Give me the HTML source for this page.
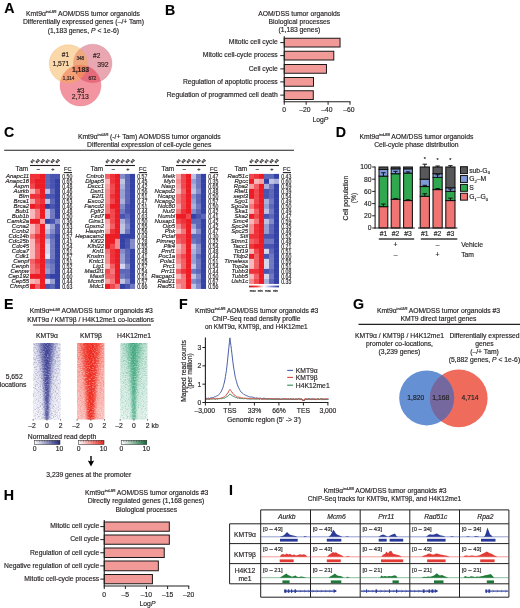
<!DOCTYPE html>
<html lang="en"><head><meta charset="utf-8"><title>KMT9 figure</title>
<style>html,body{margin:0;padding:0;background:#fff}body{width:520px;height:608px;overflow:hidden}svg{display:block}text{font-family:"Liberation Sans", Arial, Helvetica, sans-serif;stroke:#231f20;stroke-width:0.16px}</style></head><body>
<svg width="520" height="608" viewBox="0 0 520 608" fill="#231f20">
<rect width="520" height="608" fill="#fff"/>
<defs>
<filter id="spk" x="0" y="0" width="100%" height="100%" color-interpolation-filters="sRGB">
<feTurbulence type="fractalNoise" baseFrequency="0.55 0.98" numOctaves="2" seed="3" result="n"/>
<feColorMatrix in="n" type="matrix" values="0 0 0 0 1  0 0 0 0 1  0 0 0 0 1  0 0 0 -3.2 1.75"/>
<feComponentTransfer><feFuncA type="linear" slope="0.38"/></feComponentTransfer>
</filter>
<filter id="blr" x="-20%" y="-5%" width="140%" height="110%"><feGaussianBlur stdDeviation="0.9 0.2"/></filter>
<linearGradient id="gb" x1="0" x2="1"><stop offset="0" stop-color="#fff"/><stop offset="1" stop-color="#1f2a80"/></linearGradient>
<linearGradient id="gr" x1="0" x2="1"><stop offset="0" stop-color="#fff"/><stop offset="1" stop-color="#e8241c"/></linearGradient>
<linearGradient id="gg" x1="0" x2="1"><stop offset="0" stop-color="#fff"/><stop offset="1" stop-color="#0f6b35"/></linearGradient>
<linearGradient id="grb" x1="0" x2="1"><stop offset="0" stop-color="#c8141c"/><stop offset="0.25" stop-color="#ee3a3a"/><stop offset="0.5" stop-color="#ffffff"/><stop offset="0.75" stop-color="#8a92dc"/><stop offset="1" stop-color="#2a3a98"/></linearGradient>
</defs>
<text x="4.20" y="12.50" font-size="14.20" font-weight="bold" fill="#000" stroke="#000">A</text>
<text x="164.90" y="14.80" font-size="14.20" font-weight="bold" fill="#000" stroke="#000">B</text>
<text x="3.90" y="137.20" font-size="14.20" font-weight="bold" fill="#000" stroke="#000">C</text>
<text x="335.80" y="136.90" font-size="14.20" font-weight="bold" fill="#000" stroke="#000">D</text>
<text x="4.00" y="309.20" font-size="14.20" font-weight="bold" fill="#000" stroke="#000">E</text>
<text x="179.00" y="309.20" font-size="14.20" font-weight="bold" fill="#000" stroke="#000">F</text>
<text x="353.10" y="309.40" font-size="14.20" font-weight="bold" fill="#000" stroke="#000">G</text>
<text x="3.80" y="499.60" font-size="14.20" font-weight="bold" fill="#000" stroke="#000">H</text>
<text x="228.90" y="494.50" font-size="14.20" font-weight="bold" fill="#000" stroke="#000">I</text>
<text x="83.00" y="15.50" font-size="6.78" text-anchor="middle">Kmt9α<tspan font-size="3.6" dy="-2.4">ind-fl/fl</tspan><tspan dy="2.4"> AOM/DSS tumor organoids</tspan></text>
<text x="83.50" y="24.00" font-size="6.78" text-anchor="middle">Differentially expressed genes (–/+ Tam)</text>
<text x="83.40" y="32.60" font-size="6.78" text-anchor="middle">(1,183 genes, <tspan font-style="italic">P</tspan> &lt; 1e-6)</text>
<circle cx="92.7" cy="63.5" r="19.3" fill="#d4566c" fill-opacity="0.52" stroke="#c9697a" stroke-opacity="0.5" stroke-width="0.5"/>
<circle cx="80.5" cy="85.5" r="20.5" fill="#e8344a" fill-opacity="0.52" stroke="#d6566a" stroke-opacity="0.5" stroke-width="0.5"/>
<circle cx="68.3" cy="63.8" r="19.1" fill="#f4ac48" fill-opacity="0.47" stroke="#e9a45c" stroke-opacity="0.5" stroke-width="0.5"/>
<text x="65.40" y="57.40" font-size="6.50" text-anchor="middle" fill="#3a2320">#1</text>
<text x="60.90" y="66.40" font-size="6.80" text-anchor="middle" fill="#3a2320">1,571</text>
<text x="96.70" y="58.20" font-size="6.50" text-anchor="middle" fill="#3a2320">#2</text>
<text x="102.80" y="66.60" font-size="6.80" text-anchor="middle" fill="#3a2320">392</text>
<text x="80.50" y="72.10" font-size="6.90" text-anchor="middle" font-weight="bold" fill="#3a2320">1,183</text>
<text x="80.30" y="60.40" font-size="4.70" text-anchor="middle" fill="#3a2320">348</text>
<text x="68.60" y="80.30" font-size="4.60" text-anchor="middle" fill="#3a2320">1,314</text>
<text x="92.30" y="80.30" font-size="4.70" text-anchor="middle" fill="#3a2320">672</text>
<text x="80.80" y="93.40" font-size="6.50" text-anchor="middle" fill="#3a2320">#3</text>
<text x="80.30" y="99.20" font-size="6.80" text-anchor="middle" fill="#3a2320">2,713</text>
<text x="299.20" y="15.60" font-size="6.78" text-anchor="middle">AOM/DSS tumor organoids</text>
<text x="299.40" y="23.60" font-size="6.78" text-anchor="middle">Biological processes</text>
<text x="299.40" y="31.70" font-size="6.78" text-anchor="middle">(1,183 genes)</text>
<rect x="284.25" y="38.25" width="55.79" height="8.75" fill="#f29a98" stroke="#1a1718" stroke-width="1.00" />
<line x1="280.25" y1="42.62" x2="284.25" y2="42.62" stroke="#231f20" stroke-width="1.00" />
<text x="277.70" y="44.42" font-size="6.78" text-anchor="end">Mitotic cell cycle</text>
<rect x="284.25" y="51.25" width="49.54" height="8.75" fill="#f29a98" stroke="#1a1718" stroke-width="1.00" />
<line x1="280.25" y1="55.62" x2="284.25" y2="55.62" stroke="#231f20" stroke-width="1.00" />
<text x="277.70" y="57.42" font-size="6.78" text-anchor="end">Mitotic cell-cycle process</text>
<rect x="284.25" y="64.50" width="42.20" height="8.75" fill="#f29a98" stroke="#1a1718" stroke-width="1.00" />
<line x1="280.25" y1="68.88" x2="284.25" y2="68.88" stroke="#231f20" stroke-width="1.00" />
<text x="277.70" y="70.67" font-size="6.78" text-anchor="end">Cell cycle</text>
<rect x="284.25" y="77.50" width="29.26" height="8.75" fill="#f29a98" stroke="#1a1718" stroke-width="1.00" />
<line x1="280.25" y1="81.88" x2="284.25" y2="81.88" stroke="#231f20" stroke-width="1.00" />
<text x="277.70" y="83.67" font-size="6.78" text-anchor="end">Regulation of apoptotic process</text>
<rect x="284.25" y="90.75" width="29.04" height="8.75" fill="#f29a98" stroke="#1a1718" stroke-width="1.00" />
<line x1="280.25" y1="95.12" x2="284.25" y2="95.12" stroke="#231f20" stroke-width="1.00" />
<text x="277.70" y="96.92" font-size="6.78" text-anchor="end">Regulation of programmed cell death</text>
<line x1="284.25" y1="36.25" x2="284.25" y2="102.25" stroke="#231f20" stroke-width="1.10" />
<line x1="283.70" y1="101.75" x2="350.50" y2="101.75" stroke="#231f20" stroke-width="1.10" />
<line x1="284.25" y1="101.75" x2="284.25" y2="104.75" stroke="#231f20" stroke-width="1.00" />
<text x="284.25" y="112.25" font-size="6.78" text-anchor="middle">0</text>
<line x1="306.17" y1="101.75" x2="306.17" y2="104.75" stroke="#231f20" stroke-width="1.00" />
<text x="304.97" y="112.25" font-size="6.78" text-anchor="middle">–20</text>
<line x1="328.09" y1="101.75" x2="328.09" y2="104.75" stroke="#231f20" stroke-width="1.00" />
<text x="326.89" y="112.25" font-size="6.78" text-anchor="middle">–40</text>
<line x1="350.01" y1="101.75" x2="350.01" y2="104.75" stroke="#231f20" stroke-width="1.00" />
<text x="348.81" y="112.25" font-size="6.78" text-anchor="middle">–60</text>
<text x="320.32" y="121.95" font-size="6.78" text-anchor="middle">Log<tspan font-style="italic">P</tspan></text>
<text x="149.30" y="138.70" font-size="6.78" text-anchor="middle">Kmt9α<tspan font-size="3.6" dy="-2.4">ind-fl/fl</tspan><tspan dy="2.4"> (-/+ Tam) AOM/DSS tumor organoids</tspan></text>
<text x="149.30" y="146.70" font-size="6.78" text-anchor="middle">Differential expression of cell-cycle genes</text>
<line x1="4.20" y1="150.25" x2="294.00" y2="150.25" stroke="#231f20" stroke-width="1.20" />
<text x="31.90" y="163.60" font-size="3.80" font-weight="bold" transform="rotate(-45 31.90 163.6)">#1</text>
<text x="36.90" y="163.60" font-size="3.80" font-weight="bold" transform="rotate(-45 36.90 163.6)">#2</text>
<text x="41.90" y="163.60" font-size="3.80" font-weight="bold" transform="rotate(-45 41.90 163.6)">#3</text>
<text x="46.90" y="163.60" font-size="3.80" font-weight="bold" transform="rotate(-45 46.90 163.6)">#1</text>
<text x="51.90" y="163.60" font-size="3.80" font-weight="bold" transform="rotate(-45 51.90 163.6)">#2</text>
<text x="56.90" y="163.60" font-size="3.80" font-weight="bold" transform="rotate(-45 56.90 163.6)">#3</text>
<line x1="30.00" y1="165.50" x2="60.00" y2="165.50" stroke="#231f20" stroke-width="1.10" />
<text x="28.20" y="171.00" font-size="6.70" text-anchor="end">Tam</text>
<text x="38.20" y="171.00" font-size="5.60" text-anchor="middle">–</text>
<text x="52.80" y="171.20" font-size="5.60" text-anchor="middle">+</text>
<text x="67.90" y="171.00" font-size="5.70" text-anchor="middle">FC</text>
<line x1="63.80" y1="172.60" x2="72.00" y2="172.60" stroke="#231f20" stroke-width="1.10" />
<rect x="30.00" y="173.90" width="5.05" height="5.05" fill="#ef3239" />
<rect x="35.00" y="173.90" width="5.05" height="5.05" fill="#ef3239" />
<rect x="40.00" y="173.90" width="5.05" height="5.05" fill="#ed1c24" />
<rect x="45.00" y="173.90" width="5.05" height="5.05" fill="#5c67b7" />
<rect x="50.00" y="173.90" width="5.05" height="5.05" fill="#4854af" />
<rect x="55.00" y="173.90" width="5.05" height="5.05" fill="#4854af" />
<rect x="30.00" y="178.90" width="5.05" height="5.05" fill="#ef3239" />
<rect x="35.00" y="178.90" width="5.05" height="5.05" fill="#ed1c24" />
<rect x="40.00" y="178.90" width="5.05" height="5.05" fill="#ed1c24" />
<rect x="45.00" y="178.90" width="5.05" height="5.05" fill="#5c67b7" />
<rect x="50.00" y="178.90" width="5.05" height="5.05" fill="#4854af" />
<rect x="55.00" y="178.90" width="5.05" height="5.05" fill="#3442a6" />
<rect x="30.00" y="183.90" width="5.05" height="5.05" fill="#f1484f" />
<rect x="35.00" y="183.90" width="5.05" height="5.05" fill="#ed1c24" />
<rect x="40.00" y="183.90" width="5.05" height="5.05" fill="#ed1c24" />
<rect x="45.00" y="183.90" width="5.05" height="5.05" fill="#5c67b7" />
<rect x="50.00" y="183.90" width="5.05" height="5.05" fill="#4854af" />
<rect x="55.00" y="183.90" width="5.05" height="5.05" fill="#3442a6" />
<rect x="30.00" y="188.90" width="5.05" height="5.05" fill="#f9b7ba" />
<rect x="35.00" y="188.90" width="5.05" height="5.05" fill="#f25f64" />
<rect x="40.00" y="188.90" width="5.05" height="5.05" fill="#ed1c24" />
<rect x="45.00" y="188.90" width="5.05" height="5.05" fill="#bfc3e3" />
<rect x="50.00" y="188.90" width="5.05" height="5.05" fill="#5c67b7" />
<rect x="55.00" y="188.90" width="5.05" height="5.05" fill="#3442a6" />
<rect x="30.00" y="193.90" width="5.05" height="5.05" fill="#ef3239" />
<rect x="35.00" y="193.90" width="5.05" height="5.05" fill="#ef3239" />
<rect x="40.00" y="193.90" width="5.05" height="5.05" fill="#ed1c24" />
<rect x="45.00" y="193.90" width="5.05" height="5.05" fill="#4854af" />
<rect x="50.00" y="193.90" width="5.05" height="5.05" fill="#4854af" />
<rect x="55.00" y="193.90" width="5.05" height="5.05" fill="#3442a6" />
<rect x="30.00" y="198.90" width="5.05" height="5.05" fill="#f8a1a4" />
<rect x="35.00" y="198.90" width="5.05" height="5.05" fill="#f1484f" />
<rect x="40.00" y="198.90" width="5.05" height="5.05" fill="#ef3239" />
<rect x="45.00" y="198.90" width="5.05" height="5.05" fill="#bfc3e3" />
<rect x="50.00" y="198.90" width="5.05" height="5.05" fill="#5c67b7" />
<rect x="55.00" y="198.90" width="5.05" height="5.05" fill="#3442a6" />
<rect x="30.00" y="203.90" width="5.05" height="5.05" fill="#ed1c24" />
<rect x="35.00" y="203.90" width="5.05" height="5.05" fill="#ef3239" />
<rect x="40.00" y="203.90" width="5.05" height="5.05" fill="#ed1c24" />
<rect x="45.00" y="203.90" width="5.05" height="5.05" fill="#3442a6" />
<rect x="50.00" y="203.90" width="5.05" height="5.05" fill="#4854af" />
<rect x="55.00" y="203.90" width="5.05" height="5.05" fill="#3442a6" />
<rect x="30.00" y="208.90" width="5.05" height="5.05" fill="#f9b7ba" />
<rect x="35.00" y="208.90" width="5.05" height="5.05" fill="#f4757a" />
<rect x="40.00" y="208.90" width="5.05" height="5.05" fill="#ed1c24" />
<rect x="45.00" y="208.90" width="5.05" height="5.05" fill="#bfc3e3" />
<rect x="50.00" y="208.90" width="5.05" height="5.05" fill="#7079c0" />
<rect x="55.00" y="208.90" width="5.05" height="5.05" fill="#3442a6" />
<rect x="30.00" y="213.90" width="5.05" height="5.05" fill="#f9b7ba" />
<rect x="35.00" y="213.90" width="5.05" height="5.05" fill="#f4757a" />
<rect x="40.00" y="213.90" width="5.05" height="5.05" fill="#ed1c24" />
<rect x="45.00" y="213.90" width="5.05" height="5.05" fill="#bfc3e3" />
<rect x="50.00" y="213.90" width="5.05" height="5.05" fill="#7079c0" />
<rect x="55.00" y="213.90" width="5.05" height="5.05" fill="#3442a6" />
<rect x="30.00" y="218.90" width="5.05" height="5.05" fill="#ed1c24" />
<rect x="35.00" y="218.90" width="5.05" height="5.05" fill="#ed1c24" />
<rect x="40.00" y="218.90" width="5.05" height="5.05" fill="#f8a1a4" />
<rect x="45.00" y="218.90" width="5.05" height="5.05" fill="#3442a6" />
<rect x="50.00" y="218.90" width="5.05" height="5.05" fill="#4854af" />
<rect x="55.00" y="218.90" width="5.05" height="5.05" fill="#838cc9" />
<rect x="30.00" y="223.90" width="5.05" height="5.05" fill="#f9b7ba" />
<rect x="35.00" y="223.90" width="5.05" height="5.05" fill="#f4757a" />
<rect x="40.00" y="223.90" width="5.05" height="5.05" fill="#ed1c24" />
<rect x="45.00" y="223.90" width="5.05" height="5.05" fill="#d3d6ec" />
<rect x="50.00" y="223.90" width="5.05" height="5.05" fill="#979ed2" />
<rect x="55.00" y="223.90" width="5.05" height="5.05" fill="#4854af" />
<rect x="30.00" y="228.90" width="5.05" height="5.05" fill="#f9b7ba" />
<rect x="35.00" y="228.90" width="5.05" height="5.05" fill="#f4757a" />
<rect x="40.00" y="228.90" width="5.05" height="5.05" fill="#ed1c24" />
<rect x="45.00" y="228.90" width="5.05" height="5.05" fill="#bfc3e3" />
<rect x="50.00" y="228.90" width="5.05" height="5.05" fill="#838cc9" />
<rect x="55.00" y="228.90" width="5.05" height="5.05" fill="#4854af" />
<rect x="30.00" y="233.90" width="5.05" height="5.05" fill="#f4757a" />
<rect x="35.00" y="233.90" width="5.05" height="5.05" fill="#ef3239" />
<rect x="40.00" y="233.90" width="5.05" height="5.05" fill="#ed1c24" />
<rect x="45.00" y="233.90" width="5.05" height="5.05" fill="#838cc9" />
<rect x="50.00" y="233.90" width="5.05" height="5.05" fill="#5c67b7" />
<rect x="55.00" y="233.90" width="5.05" height="5.05" fill="#3442a6" />
<rect x="30.00" y="238.90" width="5.05" height="5.05" fill="#f9b7ba" />
<rect x="35.00" y="238.90" width="5.05" height="5.05" fill="#f1484f" />
<rect x="40.00" y="238.90" width="5.05" height="5.05" fill="#ed1c24" />
<rect x="45.00" y="238.90" width="5.05" height="5.05" fill="#bfc3e3" />
<rect x="50.00" y="238.90" width="5.05" height="5.05" fill="#7079c0" />
<rect x="55.00" y="238.90" width="5.05" height="5.05" fill="#3442a6" />
<rect x="30.00" y="243.90" width="5.05" height="5.05" fill="#f9b7ba" />
<rect x="35.00" y="243.90" width="5.05" height="5.05" fill="#f25f64" />
<rect x="40.00" y="243.90" width="5.05" height="5.05" fill="#ed1c24" />
<rect x="45.00" y="243.90" width="5.05" height="5.05" fill="#d3d6ec" />
<rect x="50.00" y="243.90" width="5.05" height="5.05" fill="#7079c0" />
<rect x="55.00" y="243.90" width="5.05" height="5.05" fill="#3442a6" />
<rect x="30.00" y="248.90" width="5.05" height="5.05" fill="#f9b7ba" />
<rect x="35.00" y="248.90" width="5.05" height="5.05" fill="#f25f64" />
<rect x="40.00" y="248.90" width="5.05" height="5.05" fill="#ed1c24" />
<rect x="45.00" y="248.90" width="5.05" height="5.05" fill="#d3d6ec" />
<rect x="50.00" y="248.90" width="5.05" height="5.05" fill="#7079c0" />
<rect x="55.00" y="248.90" width="5.05" height="5.05" fill="#3442a6" />
<rect x="30.00" y="253.90" width="5.05" height="5.05" fill="#f9b7ba" />
<rect x="35.00" y="253.90" width="5.05" height="5.05" fill="#f25f64" />
<rect x="40.00" y="253.90" width="5.05" height="5.05" fill="#ed1c24" />
<rect x="45.00" y="253.90" width="5.05" height="5.05" fill="#e7e8f4" />
<rect x="50.00" y="253.90" width="5.05" height="5.05" fill="#7079c0" />
<rect x="55.00" y="253.90" width="5.05" height="5.05" fill="#3442a6" />
<rect x="30.00" y="258.90" width="5.05" height="5.05" fill="#f25f64" />
<rect x="35.00" y="258.90" width="5.05" height="5.05" fill="#ef3239" />
<rect x="40.00" y="258.90" width="5.05" height="5.05" fill="#ed1c24" />
<rect x="45.00" y="258.90" width="5.05" height="5.05" fill="#7079c0" />
<rect x="50.00" y="258.90" width="5.05" height="5.05" fill="#5c67b7" />
<rect x="55.00" y="258.90" width="5.05" height="5.05" fill="#3442a6" />
<rect x="30.00" y="263.90" width="5.05" height="5.05" fill="#f4757a" />
<rect x="35.00" y="263.90" width="5.05" height="5.05" fill="#f1484f" />
<rect x="40.00" y="263.90" width="5.05" height="5.05" fill="#ed1c24" />
<rect x="45.00" y="263.90" width="5.05" height="5.05" fill="#838cc9" />
<rect x="50.00" y="263.90" width="5.05" height="5.05" fill="#7079c0" />
<rect x="55.00" y="263.90" width="5.05" height="5.05" fill="#3442a6" />
<rect x="30.00" y="268.90" width="5.05" height="5.05" fill="#f4757a" />
<rect x="35.00" y="268.90" width="5.05" height="5.05" fill="#f25f64" />
<rect x="40.00" y="268.90" width="5.05" height="5.05" fill="#ed1c24" />
<rect x="45.00" y="268.90" width="5.05" height="5.05" fill="#979ed2" />
<rect x="50.00" y="268.90" width="5.05" height="5.05" fill="#7079c0" />
<rect x="55.00" y="268.90" width="5.05" height="5.05" fill="#3442a6" />
<rect x="30.00" y="273.90" width="5.05" height="5.05" fill="#ed1c24" />
<rect x="35.00" y="273.90" width="5.05" height="5.05" fill="#ed1c24" />
<rect x="40.00" y="273.90" width="5.05" height="5.05" fill="#ed1c24" />
<rect x="45.00" y="273.90" width="5.05" height="5.05" fill="#4854af" />
<rect x="50.00" y="273.90" width="5.05" height="5.05" fill="#3442a6" />
<rect x="55.00" y="273.90" width="5.05" height="5.05" fill="#3442a6" />
<rect x="30.00" y="278.90" width="5.05" height="5.05" fill="#f9b7ba" />
<rect x="35.00" y="278.90" width="5.05" height="5.05" fill="#f8a1a4" />
<rect x="40.00" y="278.90" width="5.05" height="5.05" fill="#ed1c24" />
<rect x="45.00" y="278.90" width="5.05" height="5.05" fill="#d3d6ec" />
<rect x="50.00" y="278.90" width="5.05" height="5.05" fill="#979ed2" />
<rect x="55.00" y="278.90" width="5.05" height="5.05" fill="#3442a6" />
<rect x="30.00" y="283.90" width="5.05" height="5.05" fill="#ed1c24" />
<rect x="35.00" y="283.90" width="5.05" height="5.05" fill="#f25f64" />
<rect x="40.00" y="283.90" width="5.05" height="5.05" fill="#ed1c24" />
<rect x="45.00" y="283.90" width="5.05" height="5.05" fill="#4854af" />
<rect x="50.00" y="283.90" width="5.05" height="5.05" fill="#5c67b7" />
<rect x="55.00" y="283.90" width="5.05" height="5.05" fill="#3442a6" />
<text x="29.20" y="178.20" font-size="6.00" text-anchor="end" font-style="italic">Anapc11</text>
<text x="62.20" y="178.65" font-size="6.30" textLength="10.1" lengthAdjust="spacingAndGlyphs">0.50</text>
<text x="29.20" y="183.20" font-size="6.00" text-anchor="end" font-style="italic">Anapc16</text>
<text x="62.20" y="183.65" font-size="6.30" textLength="10.1" lengthAdjust="spacingAndGlyphs">0.65</text>
<text x="29.20" y="188.20" font-size="6.00" text-anchor="end" font-style="italic">Aspm</text>
<text x="62.20" y="188.65" font-size="6.30" textLength="10.1" lengthAdjust="spacingAndGlyphs">0.48</text>
<text x="29.20" y="193.20" font-size="6.00" text-anchor="end" font-style="italic">Aurkb</text>
<text x="62.20" y="193.65" font-size="6.30" textLength="10.1" lengthAdjust="spacingAndGlyphs">0.46</text>
<text x="29.20" y="198.20" font-size="6.00" text-anchor="end" font-style="italic">Blm</text>
<text x="62.20" y="198.65" font-size="6.30" textLength="10.1" lengthAdjust="spacingAndGlyphs">0.56</text>
<text x="29.20" y="203.20" font-size="6.00" text-anchor="end" font-style="italic">Brca1</text>
<text x="62.20" y="203.65" font-size="6.30" textLength="10.1" lengthAdjust="spacingAndGlyphs">0.53</text>
<text x="29.20" y="208.20" font-size="6.00" text-anchor="end" font-style="italic">Brca2</text>
<text x="62.20" y="208.65" font-size="6.30" textLength="10.1" lengthAdjust="spacingAndGlyphs">0.46</text>
<text x="29.20" y="213.20" font-size="6.00" text-anchor="end" font-style="italic">Bub1</text>
<text x="62.20" y="213.65" font-size="6.30" textLength="10.1" lengthAdjust="spacingAndGlyphs">0.48</text>
<text x="29.20" y="218.20" font-size="6.00" text-anchor="end" font-style="italic">Bub1b</text>
<text x="62.20" y="218.65" font-size="6.30" textLength="10.1" lengthAdjust="spacingAndGlyphs">0.50</text>
<text x="29.20" y="223.20" font-size="6.00" text-anchor="end" font-style="italic">Camk2a</text>
<text x="62.20" y="223.65" font-size="6.30" textLength="10.1" lengthAdjust="spacingAndGlyphs">0.36</text>
<text x="29.20" y="228.20" font-size="6.00" text-anchor="end" font-style="italic">Ccna2</text>
<text x="62.20" y="228.65" font-size="6.30" textLength="10.1" lengthAdjust="spacingAndGlyphs">0.53</text>
<text x="29.20" y="233.20" font-size="6.00" text-anchor="end" font-style="italic">Ccnb2</text>
<text x="62.20" y="233.65" font-size="6.30" textLength="10.1" lengthAdjust="spacingAndGlyphs">0.44</text>
<text x="29.20" y="238.20" font-size="6.00" text-anchor="end" font-style="italic">Cdc14b</text>
<text x="62.20" y="238.65" font-size="6.30" textLength="10.1" lengthAdjust="spacingAndGlyphs">0.57</text>
<text x="29.20" y="243.20" font-size="6.00" text-anchor="end" font-style="italic">Cdc25b</text>
<text x="62.20" y="243.65" font-size="6.30" textLength="10.1" lengthAdjust="spacingAndGlyphs">0.41</text>
<text x="29.20" y="248.20" font-size="6.00" text-anchor="end" font-style="italic">Cdc45</text>
<text x="62.20" y="248.65" font-size="6.30" textLength="10.1" lengthAdjust="spacingAndGlyphs">0.54</text>
<text x="29.20" y="253.20" font-size="6.00" text-anchor="end" font-style="italic">Cdca7</text>
<text x="62.20" y="253.65" font-size="6.30" textLength="10.1" lengthAdjust="spacingAndGlyphs">0.51</text>
<text x="29.20" y="258.20" font-size="6.00" text-anchor="end" font-style="italic">Cdk1</text>
<text x="62.20" y="258.65" font-size="6.30" textLength="10.1" lengthAdjust="spacingAndGlyphs">0.57</text>
<text x="29.20" y="263.20" font-size="6.00" text-anchor="end" font-style="italic">Cenpf</text>
<text x="62.20" y="263.65" font-size="6.30" textLength="10.1" lengthAdjust="spacingAndGlyphs">0.51</text>
<text x="29.20" y="268.20" font-size="6.00" text-anchor="end" font-style="italic">Cenph</text>
<text x="62.20" y="268.65" font-size="6.30" textLength="10.1" lengthAdjust="spacingAndGlyphs">0.52</text>
<text x="29.20" y="273.20" font-size="6.00" text-anchor="end" font-style="italic">Cenpw</text>
<text x="62.20" y="273.65" font-size="6.30" textLength="10.1" lengthAdjust="spacingAndGlyphs">0.44</text>
<text x="29.20" y="278.20" font-size="6.00" text-anchor="end" font-style="italic">Cep192</text>
<text x="62.20" y="278.65" font-size="6.30" textLength="10.1" lengthAdjust="spacingAndGlyphs">0.60</text>
<text x="29.20" y="283.20" font-size="6.00" text-anchor="end" font-style="italic">Cep55</text>
<text x="62.20" y="283.65" font-size="6.30" textLength="10.1" lengthAdjust="spacingAndGlyphs">0.44</text>
<text x="29.20" y="288.20" font-size="6.00" text-anchor="end" font-style="italic">Chmp5</text>
<text x="62.20" y="288.65" font-size="6.30" textLength="10.1" lengthAdjust="spacingAndGlyphs">0.63</text>
<text x="106.90" y="163.60" font-size="3.80" font-weight="bold" transform="rotate(-45 106.90 163.6)">#1</text>
<text x="111.90" y="163.60" font-size="3.80" font-weight="bold" transform="rotate(-45 111.90 163.6)">#2</text>
<text x="116.90" y="163.60" font-size="3.80" font-weight="bold" transform="rotate(-45 116.90 163.6)">#3</text>
<text x="121.90" y="163.60" font-size="3.80" font-weight="bold" transform="rotate(-45 121.90 163.6)">#1</text>
<text x="126.90" y="163.60" font-size="3.80" font-weight="bold" transform="rotate(-45 126.90 163.6)">#2</text>
<text x="131.90" y="163.60" font-size="3.80" font-weight="bold" transform="rotate(-45 131.90 163.6)">#3</text>
<line x1="105.00" y1="165.50" x2="135.00" y2="165.50" stroke="#231f20" stroke-width="1.10" />
<text x="103.20" y="171.00" font-size="6.70" text-anchor="end">Tam</text>
<text x="113.20" y="171.00" font-size="5.60" text-anchor="middle">–</text>
<text x="127.80" y="171.20" font-size="5.60" text-anchor="middle">+</text>
<text x="142.90" y="171.00" font-size="5.70" text-anchor="middle">FC</text>
<line x1="138.80" y1="172.60" x2="147.00" y2="172.60" stroke="#231f20" stroke-width="1.10" />
<rect x="105.00" y="173.90" width="5.05" height="5.05" fill="#f25f64" />
<rect x="110.00" y="173.90" width="5.05" height="5.05" fill="#ef3239" />
<rect x="115.00" y="173.90" width="5.05" height="5.05" fill="#ed1c24" />
<rect x="120.00" y="173.90" width="5.05" height="5.05" fill="#838cc9" />
<rect x="125.00" y="173.90" width="5.05" height="5.05" fill="#5c67b7" />
<rect x="130.00" y="173.90" width="5.05" height="5.05" fill="#3442a6" />
<rect x="105.00" y="178.90" width="5.05" height="5.05" fill="#f9b7ba" />
<rect x="110.00" y="178.90" width="5.05" height="5.05" fill="#ef3239" />
<rect x="115.00" y="178.90" width="5.05" height="5.05" fill="#ed1c24" />
<rect x="120.00" y="178.90" width="5.05" height="5.05" fill="#bfc3e3" />
<rect x="125.00" y="178.90" width="5.05" height="5.05" fill="#5c67b7" />
<rect x="130.00" y="178.90" width="5.05" height="5.05" fill="#3442a6" />
<rect x="105.00" y="183.90" width="5.05" height="5.05" fill="#f8a1a4" />
<rect x="110.00" y="183.90" width="5.05" height="5.05" fill="#f1484f" />
<rect x="115.00" y="183.90" width="5.05" height="5.05" fill="#ed1c24" />
<rect x="120.00" y="183.90" width="5.05" height="5.05" fill="#abb1da" />
<rect x="125.00" y="183.90" width="5.05" height="5.05" fill="#5c67b7" />
<rect x="130.00" y="183.90" width="5.05" height="5.05" fill="#3442a6" />
<rect x="105.00" y="188.90" width="5.05" height="5.05" fill="#f68b8f" />
<rect x="110.00" y="188.90" width="5.05" height="5.05" fill="#f1484f" />
<rect x="115.00" y="188.90" width="5.05" height="5.05" fill="#ed1c24" />
<rect x="120.00" y="188.90" width="5.05" height="5.05" fill="#979ed2" />
<rect x="125.00" y="188.90" width="5.05" height="5.05" fill="#5c67b7" />
<rect x="130.00" y="188.90" width="5.05" height="5.05" fill="#3442a6" />
<rect x="105.00" y="193.90" width="5.05" height="5.05" fill="#f68b8f" />
<rect x="110.00" y="193.90" width="5.05" height="5.05" fill="#ef3239" />
<rect x="115.00" y="193.90" width="5.05" height="5.05" fill="#ed1c24" />
<rect x="120.00" y="193.90" width="5.05" height="5.05" fill="#979ed2" />
<rect x="125.00" y="193.90" width="5.05" height="5.05" fill="#5c67b7" />
<rect x="130.00" y="193.90" width="5.05" height="5.05" fill="#3442a6" />
<rect x="105.00" y="198.90" width="5.05" height="5.05" fill="#f68b8f" />
<rect x="110.00" y="198.90" width="5.05" height="5.05" fill="#f1484f" />
<rect x="115.00" y="198.90" width="5.05" height="5.05" fill="#ed1c24" />
<rect x="120.00" y="198.90" width="5.05" height="5.05" fill="#abb1da" />
<rect x="125.00" y="198.90" width="5.05" height="5.05" fill="#5c67b7" />
<rect x="130.00" y="198.90" width="5.05" height="5.05" fill="#3442a6" />
<rect x="105.00" y="203.90" width="5.05" height="5.05" fill="#f4757a" />
<rect x="110.00" y="203.90" width="5.05" height="5.05" fill="#ed1c24" />
<rect x="115.00" y="203.90" width="5.05" height="5.05" fill="#ed1c24" />
<rect x="120.00" y="203.90" width="5.05" height="5.05" fill="#838cc9" />
<rect x="125.00" y="203.90" width="5.05" height="5.05" fill="#4854af" />
<rect x="130.00" y="203.90" width="5.05" height="5.05" fill="#3442a6" />
<rect x="105.00" y="208.90" width="5.05" height="5.05" fill="#f4757a" />
<rect x="110.00" y="208.90" width="5.05" height="5.05" fill="#f1484f" />
<rect x="115.00" y="208.90" width="5.05" height="5.05" fill="#ed1c24" />
<rect x="120.00" y="208.90" width="5.05" height="5.05" fill="#7079c0" />
<rect x="125.00" y="208.90" width="5.05" height="5.05" fill="#4854af" />
<rect x="130.00" y="208.90" width="5.05" height="5.05" fill="#3442a6" />
<rect x="105.00" y="213.90" width="5.05" height="5.05" fill="#ed1c24" />
<rect x="110.00" y="213.90" width="5.05" height="5.05" fill="#f1484f" />
<rect x="115.00" y="213.90" width="5.05" height="5.05" fill="#ed1c24" />
<rect x="120.00" y="213.90" width="5.05" height="5.05" fill="#4854af" />
<rect x="125.00" y="213.90" width="5.05" height="5.05" fill="#5c67b7" />
<rect x="130.00" y="213.90" width="5.05" height="5.05" fill="#3442a6" />
<rect x="105.00" y="218.90" width="5.05" height="5.05" fill="#f8a1a4" />
<rect x="110.00" y="218.90" width="5.05" height="5.05" fill="#f1484f" />
<rect x="115.00" y="218.90" width="5.05" height="5.05" fill="#ed1c24" />
<rect x="120.00" y="218.90" width="5.05" height="5.05" fill="#abb1da" />
<rect x="125.00" y="218.90" width="5.05" height="5.05" fill="#7079c0" />
<rect x="130.00" y="218.90" width="5.05" height="5.05" fill="#3442a6" />
<rect x="105.00" y="223.90" width="5.05" height="5.05" fill="#f9b7ba" />
<rect x="110.00" y="223.90" width="5.05" height="5.05" fill="#f25f64" />
<rect x="115.00" y="223.90" width="5.05" height="5.05" fill="#ed1c24" />
<rect x="120.00" y="223.90" width="5.05" height="5.05" fill="#bfc3e3" />
<rect x="125.00" y="223.90" width="5.05" height="5.05" fill="#838cc9" />
<rect x="130.00" y="223.90" width="5.05" height="5.05" fill="#3442a6" />
<rect x="105.00" y="228.90" width="5.05" height="5.05" fill="#f8a1a4" />
<rect x="110.00" y="228.90" width="5.05" height="5.05" fill="#ef3239" />
<rect x="115.00" y="228.90" width="5.05" height="5.05" fill="#ed1c24" />
<rect x="120.00" y="228.90" width="5.05" height="5.05" fill="#bfc3e3" />
<rect x="125.00" y="228.90" width="5.05" height="5.05" fill="#7079c0" />
<rect x="130.00" y="228.90" width="5.05" height="5.05" fill="#3442a6" />
<rect x="105.00" y="233.90" width="5.05" height="5.05" fill="#ed1c24" />
<rect x="110.00" y="233.90" width="5.05" height="5.05" fill="#ed1c24" />
<rect x="115.00" y="233.90" width="5.05" height="5.05" fill="#ed1c24" />
<rect x="120.00" y="233.90" width="5.05" height="5.05" fill="#3442a6" />
<rect x="125.00" y="233.90" width="5.05" height="5.05" fill="#3442a6" />
<rect x="130.00" y="233.90" width="5.05" height="5.05" fill="#3442a6" />
<rect x="105.00" y="238.90" width="5.05" height="5.05" fill="#ed1c24" />
<rect x="110.00" y="238.90" width="5.05" height="5.05" fill="#ed1c24" />
<rect x="115.00" y="238.90" width="5.05" height="5.05" fill="#f68b8f" />
<rect x="120.00" y="238.90" width="5.05" height="5.05" fill="#3442a6" />
<rect x="125.00" y="238.90" width="5.05" height="5.05" fill="#4854af" />
<rect x="130.00" y="238.90" width="5.05" height="5.05" fill="#838cc9" />
<rect x="105.00" y="243.90" width="5.05" height="5.05" fill="#ed1c24" />
<rect x="110.00" y="243.90" width="5.05" height="5.05" fill="#f1484f" />
<rect x="115.00" y="243.90" width="5.05" height="5.05" fill="#f68b8f" />
<rect x="120.00" y="243.90" width="5.05" height="5.05" fill="#3442a6" />
<rect x="125.00" y="243.90" width="5.05" height="5.05" fill="#4854af" />
<rect x="130.00" y="243.90" width="5.05" height="5.05" fill="#838cc9" />
<rect x="105.00" y="248.90" width="5.05" height="5.05" fill="#f4757a" />
<rect x="110.00" y="248.90" width="5.05" height="5.05" fill="#ef3239" />
<rect x="115.00" y="248.90" width="5.05" height="5.05" fill="#ed1c24" />
<rect x="120.00" y="248.90" width="5.05" height="5.05" fill="#838cc9" />
<rect x="125.00" y="248.90" width="5.05" height="5.05" fill="#5c67b7" />
<rect x="130.00" y="248.90" width="5.05" height="5.05" fill="#3442a6" />
<rect x="105.00" y="253.90" width="5.05" height="5.05" fill="#f68b8f" />
<rect x="110.00" y="253.90" width="5.05" height="5.05" fill="#ef3239" />
<rect x="115.00" y="253.90" width="5.05" height="5.05" fill="#ed1c24" />
<rect x="120.00" y="253.90" width="5.05" height="5.05" fill="#979ed2" />
<rect x="125.00" y="253.90" width="5.05" height="5.05" fill="#5c67b7" />
<rect x="130.00" y="253.90" width="5.05" height="5.05" fill="#3442a6" />
<rect x="105.00" y="258.90" width="5.05" height="5.05" fill="#f68b8f" />
<rect x="110.00" y="258.90" width="5.05" height="5.05" fill="#ef3239" />
<rect x="115.00" y="258.90" width="5.05" height="5.05" fill="#ed1c24" />
<rect x="120.00" y="258.90" width="5.05" height="5.05" fill="#979ed2" />
<rect x="125.00" y="258.90" width="5.05" height="5.05" fill="#5c67b7" />
<rect x="130.00" y="258.90" width="5.05" height="5.05" fill="#3442a6" />
<rect x="105.00" y="263.90" width="5.05" height="5.05" fill="#f9b7ba" />
<rect x="110.00" y="263.90" width="5.05" height="5.05" fill="#f25f64" />
<rect x="115.00" y="263.90" width="5.05" height="5.05" fill="#ed1c24" />
<rect x="120.00" y="263.90" width="5.05" height="5.05" fill="#d3d6ec" />
<rect x="125.00" y="263.90" width="5.05" height="5.05" fill="#838cc9" />
<rect x="130.00" y="263.90" width="5.05" height="5.05" fill="#3442a6" />
<rect x="105.00" y="268.90" width="5.05" height="5.05" fill="#f1484f" />
<rect x="110.00" y="268.90" width="5.05" height="5.05" fill="#f4757a" />
<rect x="115.00" y="268.90" width="5.05" height="5.05" fill="#ed1c24" />
<rect x="120.00" y="268.90" width="5.05" height="5.05" fill="#5c67b7" />
<rect x="125.00" y="268.90" width="5.05" height="5.05" fill="#5c67b7" />
<rect x="130.00" y="268.90" width="5.05" height="5.05" fill="#3442a6" />
<rect x="105.00" y="273.90" width="5.05" height="5.05" fill="#f25f64" />
<rect x="110.00" y="273.90" width="5.05" height="5.05" fill="#f25f64" />
<rect x="115.00" y="273.90" width="5.05" height="5.05" fill="#ed1c24" />
<rect x="120.00" y="273.90" width="5.05" height="5.05" fill="#7079c0" />
<rect x="125.00" y="273.90" width="5.05" height="5.05" fill="#5c67b7" />
<rect x="130.00" y="273.90" width="5.05" height="5.05" fill="#3442a6" />
<rect x="105.00" y="278.90" width="5.05" height="5.05" fill="#f8a1a4" />
<rect x="110.00" y="278.90" width="5.05" height="5.05" fill="#f4757a" />
<rect x="115.00" y="278.90" width="5.05" height="5.05" fill="#ed1c24" />
<rect x="120.00" y="278.90" width="5.05" height="5.05" fill="#bfc3e3" />
<rect x="125.00" y="278.90" width="5.05" height="5.05" fill="#838cc9" />
<rect x="130.00" y="278.90" width="5.05" height="5.05" fill="#3442a6" />
<rect x="105.00" y="283.90" width="5.05" height="5.05" fill="#ed1c24" />
<rect x="110.00" y="283.90" width="5.05" height="5.05" fill="#f1484f" />
<rect x="115.00" y="283.90" width="5.05" height="5.05" fill="#f4757a" />
<rect x="120.00" y="283.90" width="5.05" height="5.05" fill="#3442a6" />
<rect x="125.00" y="283.90" width="5.05" height="5.05" fill="#4854af" />
<rect x="130.00" y="283.90" width="5.05" height="5.05" fill="#7079c0" />
<text x="104.20" y="178.20" font-size="6.00" text-anchor="end" font-style="italic">Cntrob</text>
<text x="137.20" y="178.65" font-size="6.30" textLength="10.1" lengthAdjust="spacingAndGlyphs">0.57</text>
<text x="104.20" y="183.20" font-size="6.00" text-anchor="end" font-style="italic">Dlgap5</text>
<text x="137.20" y="183.65" font-size="6.30" textLength="10.1" lengthAdjust="spacingAndGlyphs">0.45</text>
<text x="104.20" y="188.20" font-size="6.00" text-anchor="end" font-style="italic">Dscc1</text>
<text x="137.20" y="188.65" font-size="6.30" textLength="10.1" lengthAdjust="spacingAndGlyphs">0.42</text>
<text x="104.20" y="193.20" font-size="6.00" text-anchor="end" font-style="italic">Dsn1</text>
<text x="137.20" y="193.65" font-size="6.30" textLength="10.1" lengthAdjust="spacingAndGlyphs">0.56</text>
<text x="104.20" y="198.20" font-size="6.00" text-anchor="end" font-style="italic">E2f1</text>
<text x="137.20" y="198.65" font-size="6.30" textLength="10.1" lengthAdjust="spacingAndGlyphs">0.51</text>
<text x="104.20" y="203.20" font-size="6.00" text-anchor="end" font-style="italic">Esco2</text>
<text x="137.20" y="203.65" font-size="6.30" textLength="10.1" lengthAdjust="spacingAndGlyphs">0.47</text>
<text x="104.20" y="208.20" font-size="6.00" text-anchor="end" font-style="italic">Fancd2</text>
<text x="137.20" y="208.65" font-size="6.30" textLength="10.1" lengthAdjust="spacingAndGlyphs">0.51</text>
<text x="104.20" y="213.20" font-size="6.00" text-anchor="end" font-style="italic">Fgfr2</text>
<text x="137.20" y="213.65" font-size="6.30" textLength="10.1" lengthAdjust="spacingAndGlyphs">0.44</text>
<text x="104.20" y="218.20" font-size="6.00" text-anchor="end" font-style="italic">Fzd7</text>
<text x="137.20" y="218.65" font-size="6.30" textLength="10.1" lengthAdjust="spacingAndGlyphs">0.63</text>
<text x="104.20" y="223.20" font-size="6.00" text-anchor="end" font-style="italic">Gins1</text>
<text x="137.20" y="223.65" font-size="6.30" textLength="10.1" lengthAdjust="spacingAndGlyphs">0.50</text>
<text x="104.20" y="228.20" font-size="6.00" text-anchor="end" font-style="italic">Gpsm2</text>
<text x="137.20" y="228.65" font-size="6.30" textLength="10.1" lengthAdjust="spacingAndGlyphs">0.55</text>
<text x="104.20" y="233.20" font-size="6.00" text-anchor="end" font-style="italic">Haspin</text>
<text x="137.20" y="233.65" font-size="6.30" textLength="10.1" lengthAdjust="spacingAndGlyphs">0.56</text>
<text x="104.20" y="238.20" font-size="6.00" text-anchor="end" font-style="italic">Hepacam2</text>
<text x="137.20" y="238.65" font-size="6.30" textLength="10.1" lengthAdjust="spacingAndGlyphs">0.04</text>
<text x="104.20" y="243.20" font-size="6.00" text-anchor="end" font-style="italic">Kif22</text>
<text x="137.20" y="243.65" font-size="6.30" textLength="10.1" lengthAdjust="spacingAndGlyphs">0.28</text>
<text x="104.20" y="248.20" font-size="6.00" text-anchor="end" font-style="italic">Klhl22</text>
<text x="137.20" y="248.65" font-size="6.30" textLength="10.1" lengthAdjust="spacingAndGlyphs">0.55</text>
<text x="104.20" y="253.20" font-size="6.00" text-anchor="end" font-style="italic">Knl1</text>
<text x="137.20" y="253.65" font-size="6.30" textLength="10.1" lengthAdjust="spacingAndGlyphs">0.48</text>
<text x="104.20" y="258.20" font-size="6.00" text-anchor="end" font-style="italic">Knstrn</text>
<text x="137.20" y="258.65" font-size="6.30" textLength="10.1" lengthAdjust="spacingAndGlyphs">0.41</text>
<text x="104.20" y="263.20" font-size="6.00" text-anchor="end" font-style="italic">Kntc1</text>
<text x="137.20" y="263.65" font-size="6.30" textLength="10.1" lengthAdjust="spacingAndGlyphs">0.55</text>
<text x="104.20" y="268.20" font-size="6.00" text-anchor="end" font-style="italic">Lig1</text>
<text x="137.20" y="268.65" font-size="6.30" textLength="10.1" lengthAdjust="spacingAndGlyphs">0.57</text>
<text x="104.20" y="273.20" font-size="6.00" text-anchor="end" font-style="italic">Mad2l1</text>
<text x="137.20" y="273.65" font-size="6.30" textLength="10.1" lengthAdjust="spacingAndGlyphs">0.54</text>
<text x="104.20" y="278.20" font-size="6.00" text-anchor="end" font-style="italic">Mastl</text>
<text x="137.20" y="278.65" font-size="6.30" textLength="10.1" lengthAdjust="spacingAndGlyphs">0.51</text>
<text x="104.20" y="283.20" font-size="6.00" text-anchor="end" font-style="italic">Mcm6</text>
<text x="137.20" y="283.65" font-size="6.30" textLength="10.1" lengthAdjust="spacingAndGlyphs">0.57</text>
<text x="104.20" y="288.20" font-size="6.00" text-anchor="end" font-style="italic">Mdc1</text>
<text x="137.20" y="288.65" font-size="6.30" textLength="10.1" lengthAdjust="spacingAndGlyphs">0.66</text>
<text x="177.90" y="163.60" font-size="3.80" font-weight="bold" transform="rotate(-45 177.90 163.6)">#1</text>
<text x="182.90" y="163.60" font-size="3.80" font-weight="bold" transform="rotate(-45 182.90 163.6)">#2</text>
<text x="187.90" y="163.60" font-size="3.80" font-weight="bold" transform="rotate(-45 187.90 163.6)">#3</text>
<text x="192.90" y="163.60" font-size="3.80" font-weight="bold" transform="rotate(-45 192.90 163.6)">#1</text>
<text x="197.90" y="163.60" font-size="3.80" font-weight="bold" transform="rotate(-45 197.90 163.6)">#2</text>
<text x="202.90" y="163.60" font-size="3.80" font-weight="bold" transform="rotate(-45 202.90 163.6)">#3</text>
<line x1="176.00" y1="165.50" x2="206.00" y2="165.50" stroke="#231f20" stroke-width="1.10" />
<text x="174.20" y="171.00" font-size="6.70" text-anchor="end">Tam</text>
<text x="184.20" y="171.00" font-size="5.60" text-anchor="middle">–</text>
<text x="198.80" y="171.20" font-size="5.60" text-anchor="middle">+</text>
<text x="213.90" y="171.00" font-size="5.70" text-anchor="middle">FC</text>
<line x1="209.80" y1="172.60" x2="218.00" y2="172.60" stroke="#231f20" stroke-width="1.10" />
<rect x="176.00" y="173.90" width="5.05" height="5.05" fill="#f8a1a4" />
<rect x="181.00" y="173.90" width="5.05" height="5.05" fill="#f1484f" />
<rect x="186.00" y="173.90" width="5.05" height="5.05" fill="#ed1c24" />
<rect x="191.00" y="173.90" width="5.05" height="5.05" fill="#bfc3e3" />
<rect x="196.00" y="173.90" width="5.05" height="5.05" fill="#7079c0" />
<rect x="201.00" y="173.90" width="5.05" height="5.05" fill="#3442a6" />
<rect x="176.00" y="178.90" width="5.05" height="5.05" fill="#f68b8f" />
<rect x="181.00" y="178.90" width="5.05" height="5.05" fill="#f1484f" />
<rect x="186.00" y="178.90" width="5.05" height="5.05" fill="#ed1c24" />
<rect x="191.00" y="178.90" width="5.05" height="5.05" fill="#979ed2" />
<rect x="196.00" y="178.90" width="5.05" height="5.05" fill="#7079c0" />
<rect x="201.00" y="178.90" width="5.05" height="5.05" fill="#3442a6" />
<rect x="176.00" y="183.90" width="5.05" height="5.05" fill="#f8a1a4" />
<rect x="181.00" y="183.90" width="5.05" height="5.05" fill="#f1484f" />
<rect x="186.00" y="183.90" width="5.05" height="5.05" fill="#ed1c24" />
<rect x="191.00" y="183.90" width="5.05" height="5.05" fill="#abb1da" />
<rect x="196.00" y="183.90" width="5.05" height="5.05" fill="#7079c0" />
<rect x="201.00" y="183.90" width="5.05" height="5.05" fill="#3442a6" />
<rect x="176.00" y="188.90" width="5.05" height="5.05" fill="#f9b7ba" />
<rect x="181.00" y="188.90" width="5.05" height="5.05" fill="#f25f64" />
<rect x="186.00" y="188.90" width="5.05" height="5.05" fill="#ed1c24" />
<rect x="191.00" y="188.90" width="5.05" height="5.05" fill="#bfc3e3" />
<rect x="196.00" y="188.90" width="5.05" height="5.05" fill="#838cc9" />
<rect x="201.00" y="188.90" width="5.05" height="5.05" fill="#3442a6" />
<rect x="176.00" y="193.90" width="5.05" height="5.05" fill="#f4757a" />
<rect x="181.00" y="193.90" width="5.05" height="5.05" fill="#f1484f" />
<rect x="186.00" y="193.90" width="5.05" height="5.05" fill="#ed1c24" />
<rect x="191.00" y="193.90" width="5.05" height="5.05" fill="#838cc9" />
<rect x="196.00" y="193.90" width="5.05" height="5.05" fill="#5c67b7" />
<rect x="201.00" y="193.90" width="5.05" height="5.05" fill="#3442a6" />
<rect x="176.00" y="198.90" width="5.05" height="5.05" fill="#f4757a" />
<rect x="181.00" y="198.90" width="5.05" height="5.05" fill="#f1484f" />
<rect x="186.00" y="198.90" width="5.05" height="5.05" fill="#ed1c24" />
<rect x="191.00" y="198.90" width="5.05" height="5.05" fill="#979ed2" />
<rect x="196.00" y="198.90" width="5.05" height="5.05" fill="#5c67b7" />
<rect x="201.00" y="198.90" width="5.05" height="5.05" fill="#3442a6" />
<rect x="176.00" y="203.90" width="5.05" height="5.05" fill="#f8a1a4" />
<rect x="181.00" y="203.90" width="5.05" height="5.05" fill="#f1484f" />
<rect x="186.00" y="203.90" width="5.05" height="5.05" fill="#ed1c24" />
<rect x="191.00" y="203.90" width="5.05" height="5.05" fill="#abb1da" />
<rect x="196.00" y="203.90" width="5.05" height="5.05" fill="#7079c0" />
<rect x="201.00" y="203.90" width="5.05" height="5.05" fill="#3442a6" />
<rect x="176.00" y="208.90" width="5.05" height="5.05" fill="#f4757a" />
<rect x="181.00" y="208.90" width="5.05" height="5.05" fill="#ef3239" />
<rect x="186.00" y="208.90" width="5.05" height="5.05" fill="#ed1c24" />
<rect x="191.00" y="208.90" width="5.05" height="5.05" fill="#838cc9" />
<rect x="196.00" y="208.90" width="5.05" height="5.05" fill="#5c67b7" />
<rect x="201.00" y="208.90" width="5.05" height="5.05" fill="#3442a6" />
<rect x="176.00" y="213.90" width="5.05" height="5.05" fill="#ed1c24" />
<rect x="181.00" y="213.90" width="5.05" height="5.05" fill="#ed1c24" />
<rect x="186.00" y="213.90" width="5.05" height="5.05" fill="#f1484f" />
<rect x="191.00" y="213.90" width="5.05" height="5.05" fill="#3442a6" />
<rect x="196.00" y="213.90" width="5.05" height="5.05" fill="#4854af" />
<rect x="201.00" y="213.90" width="5.05" height="5.05" fill="#5c67b7" />
<rect x="176.00" y="218.90" width="5.05" height="5.05" fill="#f1484f" />
<rect x="181.00" y="218.90" width="5.05" height="5.05" fill="#ef3239" />
<rect x="186.00" y="218.90" width="5.05" height="5.05" fill="#ed1c24" />
<rect x="191.00" y="218.90" width="5.05" height="5.05" fill="#5c67b7" />
<rect x="196.00" y="218.90" width="5.05" height="5.05" fill="#5c67b7" />
<rect x="201.00" y="218.90" width="5.05" height="5.05" fill="#3442a6" />
<rect x="176.00" y="223.90" width="5.05" height="5.05" fill="#f68b8f" />
<rect x="181.00" y="223.90" width="5.05" height="5.05" fill="#f1484f" />
<rect x="186.00" y="223.90" width="5.05" height="5.05" fill="#ed1c24" />
<rect x="191.00" y="223.90" width="5.05" height="5.05" fill="#979ed2" />
<rect x="196.00" y="223.90" width="5.05" height="5.05" fill="#5c67b7" />
<rect x="201.00" y="223.90" width="5.05" height="5.05" fill="#3442a6" />
<rect x="176.00" y="228.90" width="5.05" height="5.05" fill="#f9b7ba" />
<rect x="181.00" y="228.90" width="5.05" height="5.05" fill="#f4757a" />
<rect x="186.00" y="228.90" width="5.05" height="5.05" fill="#ed1c24" />
<rect x="191.00" y="228.90" width="5.05" height="5.05" fill="#bfc3e3" />
<rect x="196.00" y="228.90" width="5.05" height="5.05" fill="#838cc9" />
<rect x="201.00" y="228.90" width="5.05" height="5.05" fill="#3442a6" />
<rect x="176.00" y="233.90" width="5.05" height="5.05" fill="#f1484f" />
<rect x="181.00" y="233.90" width="5.05" height="5.05" fill="#f1484f" />
<rect x="186.00" y="233.90" width="5.05" height="5.05" fill="#ed1c24" />
<rect x="191.00" y="233.90" width="5.05" height="5.05" fill="#5c67b7" />
<rect x="196.00" y="233.90" width="5.05" height="5.05" fill="#5c67b7" />
<rect x="201.00" y="233.90" width="5.05" height="5.05" fill="#3442a6" />
<rect x="176.00" y="238.90" width="5.05" height="5.05" fill="#f25f64" />
<rect x="181.00" y="238.90" width="5.05" height="5.05" fill="#f1484f" />
<rect x="186.00" y="238.90" width="5.05" height="5.05" fill="#ed1c24" />
<rect x="191.00" y="238.90" width="5.05" height="5.05" fill="#7079c0" />
<rect x="196.00" y="238.90" width="5.05" height="5.05" fill="#5c67b7" />
<rect x="201.00" y="238.90" width="5.05" height="5.05" fill="#3442a6" />
<rect x="176.00" y="243.90" width="5.05" height="5.05" fill="#f9b7ba" />
<rect x="181.00" y="243.90" width="5.05" height="5.05" fill="#f4757a" />
<rect x="186.00" y="243.90" width="5.05" height="5.05" fill="#ed1c24" />
<rect x="191.00" y="243.90" width="5.05" height="5.05" fill="#bfc3e3" />
<rect x="196.00" y="243.90" width="5.05" height="5.05" fill="#838cc9" />
<rect x="201.00" y="243.90" width="5.05" height="5.05" fill="#3442a6" />
<rect x="176.00" y="248.90" width="5.05" height="5.05" fill="#f8a1a4" />
<rect x="181.00" y="248.90" width="5.05" height="5.05" fill="#f4757a" />
<rect x="186.00" y="248.90" width="5.05" height="5.05" fill="#ed1c24" />
<rect x="191.00" y="248.90" width="5.05" height="5.05" fill="#abb1da" />
<rect x="196.00" y="248.90" width="5.05" height="5.05" fill="#838cc9" />
<rect x="201.00" y="248.90" width="5.05" height="5.05" fill="#3442a6" />
<rect x="176.00" y="253.90" width="5.05" height="5.05" fill="#f4757a" />
<rect x="181.00" y="253.90" width="5.05" height="5.05" fill="#f1484f" />
<rect x="186.00" y="253.90" width="5.05" height="5.05" fill="#ed1c24" />
<rect x="191.00" y="253.90" width="5.05" height="5.05" fill="#979ed2" />
<rect x="196.00" y="253.90" width="5.05" height="5.05" fill="#5c67b7" />
<rect x="201.00" y="253.90" width="5.05" height="5.05" fill="#3442a6" />
<rect x="176.00" y="258.90" width="5.05" height="5.05" fill="#f68b8f" />
<rect x="181.00" y="258.90" width="5.05" height="5.05" fill="#f25f64" />
<rect x="186.00" y="258.90" width="5.05" height="5.05" fill="#ed1c24" />
<rect x="191.00" y="258.90" width="5.05" height="5.05" fill="#979ed2" />
<rect x="196.00" y="258.90" width="5.05" height="5.05" fill="#7079c0" />
<rect x="201.00" y="258.90" width="5.05" height="5.05" fill="#3442a6" />
<rect x="176.00" y="263.90" width="5.05" height="5.05" fill="#f9b7ba" />
<rect x="181.00" y="263.90" width="5.05" height="5.05" fill="#f25f64" />
<rect x="186.00" y="263.90" width="5.05" height="5.05" fill="#ed1c24" />
<rect x="191.00" y="263.90" width="5.05" height="5.05" fill="#bfc3e3" />
<rect x="196.00" y="263.90" width="5.05" height="5.05" fill="#7079c0" />
<rect x="201.00" y="263.90" width="5.05" height="5.05" fill="#3442a6" />
<rect x="176.00" y="268.90" width="5.05" height="5.05" fill="#f25f64" />
<rect x="181.00" y="268.90" width="5.05" height="5.05" fill="#ef3239" />
<rect x="186.00" y="268.90" width="5.05" height="5.05" fill="#ed1c24" />
<rect x="191.00" y="268.90" width="5.05" height="5.05" fill="#7079c0" />
<rect x="196.00" y="268.90" width="5.05" height="5.05" fill="#5c67b7" />
<rect x="201.00" y="268.90" width="5.05" height="5.05" fill="#3442a6" />
<rect x="176.00" y="273.90" width="5.05" height="5.05" fill="#f9b7ba" />
<rect x="181.00" y="273.90" width="5.05" height="5.05" fill="#f4757a" />
<rect x="186.00" y="273.90" width="5.05" height="5.05" fill="#ed1c24" />
<rect x="191.00" y="273.90" width="5.05" height="5.05" fill="#bfc3e3" />
<rect x="196.00" y="273.90" width="5.05" height="5.05" fill="#838cc9" />
<rect x="201.00" y="273.90" width="5.05" height="5.05" fill="#3442a6" />
<rect x="176.00" y="278.90" width="5.05" height="5.05" fill="#f4757a" />
<rect x="181.00" y="278.90" width="5.05" height="5.05" fill="#f4757a" />
<rect x="186.00" y="278.90" width="5.05" height="5.05" fill="#ed1c24" />
<rect x="191.00" y="278.90" width="5.05" height="5.05" fill="#838cc9" />
<rect x="196.00" y="278.90" width="5.05" height="5.05" fill="#7079c0" />
<rect x="201.00" y="278.90" width="5.05" height="5.05" fill="#3442a6" />
<rect x="176.00" y="283.90" width="5.05" height="5.05" fill="#f8a1a4" />
<rect x="181.00" y="283.90" width="5.05" height="5.05" fill="#f4757a" />
<rect x="186.00" y="283.90" width="5.05" height="5.05" fill="#ed1c24" />
<rect x="191.00" y="283.90" width="5.05" height="5.05" fill="#bfc3e3" />
<rect x="196.00" y="283.90" width="5.05" height="5.05" fill="#838cc9" />
<rect x="201.00" y="283.90" width="5.05" height="5.05" fill="#3442a6" />
<text x="175.20" y="178.20" font-size="6.00" text-anchor="end" font-style="italic">Melk</text>
<text x="208.20" y="178.65" font-size="6.30" textLength="10.1" lengthAdjust="spacingAndGlyphs">0.47</text>
<text x="175.20" y="183.20" font-size="6.00" text-anchor="end" font-style="italic">Myb</text>
<text x="208.20" y="183.65" font-size="6.30" textLength="10.1" lengthAdjust="spacingAndGlyphs">0.35</text>
<text x="175.20" y="188.20" font-size="6.00" text-anchor="end" font-style="italic">Nasp</text>
<text x="208.20" y="188.65" font-size="6.30" textLength="10.1" lengthAdjust="spacingAndGlyphs">0.65</text>
<text x="175.20" y="193.20" font-size="6.00" text-anchor="end" font-style="italic">Ncapd2</text>
<text x="208.20" y="193.65" font-size="6.30" textLength="10.1" lengthAdjust="spacingAndGlyphs">0.48</text>
<text x="175.20" y="198.20" font-size="6.00" text-anchor="end" font-style="italic">Ncapg</text>
<text x="208.20" y="198.65" font-size="6.30" textLength="10.1" lengthAdjust="spacingAndGlyphs">0.50</text>
<text x="175.20" y="203.20" font-size="6.00" text-anchor="end" font-style="italic">Ncapg2</text>
<text x="208.20" y="203.65" font-size="6.30" textLength="10.1" lengthAdjust="spacingAndGlyphs">0.57</text>
<text x="175.20" y="208.20" font-size="6.00" text-anchor="end" font-style="italic">Ndc80</text>
<text x="208.20" y="208.65" font-size="6.30" textLength="10.1" lengthAdjust="spacingAndGlyphs">0.50</text>
<text x="175.20" y="213.20" font-size="6.00" text-anchor="end" font-style="italic">Nuf2</text>
<text x="208.20" y="213.65" font-size="6.30" textLength="10.1" lengthAdjust="spacingAndGlyphs">0.42</text>
<text x="175.20" y="218.20" font-size="6.00" text-anchor="end" font-style="italic">Numbl</text>
<text x="208.20" y="218.65" font-size="6.30" textLength="10.1" lengthAdjust="spacingAndGlyphs">0.41</text>
<text x="175.20" y="223.20" font-size="6.00" text-anchor="end" font-style="italic">Nusap1</text>
<text x="208.20" y="223.65" font-size="6.30" textLength="10.1" lengthAdjust="spacingAndGlyphs">0.42</text>
<text x="175.20" y="228.20" font-size="6.00" text-anchor="end" font-style="italic">Oip5</text>
<text x="208.20" y="228.65" font-size="6.30" textLength="10.1" lengthAdjust="spacingAndGlyphs">0.42</text>
<text x="175.20" y="233.20" font-size="6.00" text-anchor="end" font-style="italic">Pbk</text>
<text x="208.20" y="233.65" font-size="6.30" textLength="10.1" lengthAdjust="spacingAndGlyphs">0.47</text>
<text x="175.20" y="238.20" font-size="6.00" text-anchor="end" font-style="italic">Pclaf</text>
<text x="208.20" y="238.65" font-size="6.30" textLength="10.1" lengthAdjust="spacingAndGlyphs">0.30</text>
<text x="175.20" y="243.20" font-size="6.00" text-anchor="end" font-style="italic">Pimreg</text>
<text x="208.20" y="243.65" font-size="6.30" textLength="10.1" lengthAdjust="spacingAndGlyphs">0.32</text>
<text x="175.20" y="248.20" font-size="6.00" text-anchor="end" font-style="italic">Plk4</text>
<text x="208.20" y="248.65" font-size="6.30" textLength="10.1" lengthAdjust="spacingAndGlyphs">0.54</text>
<text x="175.20" y="253.20" font-size="6.00" text-anchor="end" font-style="italic">Pmf1</text>
<text x="208.20" y="253.65" font-size="6.30" textLength="10.1" lengthAdjust="spacingAndGlyphs">0.48</text>
<text x="175.20" y="258.20" font-size="6.00" text-anchor="end" font-style="italic">Poc1a</text>
<text x="208.20" y="258.65" font-size="6.30" textLength="10.1" lengthAdjust="spacingAndGlyphs">0.44</text>
<text x="175.20" y="263.20" font-size="6.00" text-anchor="end" font-style="italic">Pola1</text>
<text x="208.20" y="263.65" font-size="6.30" textLength="10.1" lengthAdjust="spacingAndGlyphs">0.51</text>
<text x="175.20" y="268.20" font-size="6.00" text-anchor="end" font-style="italic">Prc1</text>
<text x="208.20" y="268.65" font-size="6.30" textLength="10.1" lengthAdjust="spacingAndGlyphs">0.54</text>
<text x="175.20" y="273.20" font-size="6.00" text-anchor="end" font-style="italic">Prr11</text>
<text x="208.20" y="273.65" font-size="6.30" textLength="10.1" lengthAdjust="spacingAndGlyphs">0.44</text>
<text x="175.20" y="278.20" font-size="6.00" text-anchor="end" font-style="italic">Racgap1</text>
<text x="208.20" y="278.65" font-size="6.30" textLength="10.1" lengthAdjust="spacingAndGlyphs">0.50</text>
<text x="175.20" y="283.20" font-size="6.00" text-anchor="end" font-style="italic">Rad21</text>
<text x="208.20" y="283.65" font-size="6.30" textLength="10.1" lengthAdjust="spacingAndGlyphs">0.67</text>
<text x="175.20" y="288.20" font-size="6.00" text-anchor="end" font-style="italic">Rad51</text>
<text x="208.20" y="288.65" font-size="6.30" textLength="10.1" lengthAdjust="spacingAndGlyphs">0.56</text>
<text x="250.90" y="163.60" font-size="3.80" font-weight="bold" transform="rotate(-45 250.90 163.6)">#1</text>
<text x="255.90" y="163.60" font-size="3.80" font-weight="bold" transform="rotate(-45 255.90 163.6)">#2</text>
<text x="260.90" y="163.60" font-size="3.80" font-weight="bold" transform="rotate(-45 260.90 163.6)">#3</text>
<text x="265.90" y="163.60" font-size="3.80" font-weight="bold" transform="rotate(-45 265.90 163.6)">#1</text>
<text x="270.90" y="163.60" font-size="3.80" font-weight="bold" transform="rotate(-45 270.90 163.6)">#2</text>
<text x="275.90" y="163.60" font-size="3.80" font-weight="bold" transform="rotate(-45 275.90 163.6)">#3</text>
<line x1="249.00" y1="165.50" x2="279.00" y2="165.50" stroke="#231f20" stroke-width="1.10" />
<text x="247.20" y="171.00" font-size="6.70" text-anchor="end">Tam</text>
<text x="257.20" y="171.00" font-size="5.60" text-anchor="middle">–</text>
<text x="271.80" y="171.20" font-size="5.60" text-anchor="middle">+</text>
<text x="286.90" y="171.00" font-size="5.70" text-anchor="middle">FC</text>
<line x1="282.80" y1="172.60" x2="291.00" y2="172.60" stroke="#231f20" stroke-width="1.10" />
<rect x="249.00" y="173.90" width="5.05" height="5.05" fill="#f1484f" />
<rect x="254.00" y="173.90" width="5.05" height="5.05" fill="#ef3239" />
<rect x="259.00" y="173.90" width="5.05" height="5.05" fill="#ed1c24" />
<rect x="264.00" y="173.90" width="5.05" height="5.05" fill="#5c67b7" />
<rect x="269.00" y="173.90" width="5.05" height="5.05" fill="#5c67b7" />
<rect x="274.00" y="173.90" width="5.05" height="5.05" fill="#3442a6" />
<rect x="249.00" y="178.90" width="5.05" height="5.05" fill="#ed1c24" />
<rect x="254.00" y="178.90" width="5.05" height="5.05" fill="#f9b7ba" />
<rect x="259.00" y="178.90" width="5.05" height="5.05" fill="#f8a1a4" />
<rect x="264.00" y="178.90" width="5.05" height="5.05" fill="#3442a6" />
<rect x="269.00" y="178.90" width="5.05" height="5.05" fill="#bfc3e3" />
<rect x="274.00" y="178.90" width="5.05" height="5.05" fill="#abb1da" />
<rect x="249.00" y="183.90" width="5.05" height="5.05" fill="#f8a1a4" />
<rect x="254.00" y="183.90" width="5.05" height="5.05" fill="#f25f64" />
<rect x="259.00" y="183.90" width="5.05" height="5.05" fill="#ed1c24" />
<rect x="264.00" y="183.90" width="5.05" height="5.05" fill="#abb1da" />
<rect x="269.00" y="183.90" width="5.05" height="5.05" fill="#7079c0" />
<rect x="274.00" y="183.90" width="5.05" height="5.05" fill="#3442a6" />
<rect x="249.00" y="188.90" width="5.05" height="5.05" fill="#ed1c24" />
<rect x="254.00" y="188.90" width="5.05" height="5.05" fill="#f1484f" />
<rect x="259.00" y="188.90" width="5.05" height="5.05" fill="#ed1c24" />
<rect x="264.00" y="188.90" width="5.05" height="5.05" fill="#4854af" />
<rect x="269.00" y="188.90" width="5.05" height="5.05" fill="#5c67b7" />
<rect x="274.00" y="188.90" width="5.05" height="5.05" fill="#3442a6" />
<rect x="249.00" y="193.90" width="5.05" height="5.05" fill="#ed1c24" />
<rect x="254.00" y="193.90" width="5.05" height="5.05" fill="#f1484f" />
<rect x="259.00" y="193.90" width="5.05" height="5.05" fill="#ed1c24" />
<rect x="264.00" y="193.90" width="5.05" height="5.05" fill="#4854af" />
<rect x="269.00" y="193.90" width="5.05" height="5.05" fill="#5c67b7" />
<rect x="274.00" y="193.90" width="5.05" height="5.05" fill="#3442a6" />
<rect x="249.00" y="198.90" width="5.05" height="5.05" fill="#f8a1a4" />
<rect x="254.00" y="198.90" width="5.05" height="5.05" fill="#f1484f" />
<rect x="259.00" y="198.90" width="5.05" height="5.05" fill="#ed1c24" />
<rect x="264.00" y="198.90" width="5.05" height="5.05" fill="#abb1da" />
<rect x="269.00" y="198.90" width="5.05" height="5.05" fill="#7079c0" />
<rect x="274.00" y="198.90" width="5.05" height="5.05" fill="#3442a6" />
<rect x="249.00" y="203.90" width="5.05" height="5.05" fill="#f4757a" />
<rect x="254.00" y="203.90" width="5.05" height="5.05" fill="#ef3239" />
<rect x="259.00" y="203.90" width="5.05" height="5.05" fill="#ed1c24" />
<rect x="264.00" y="203.90" width="5.05" height="5.05" fill="#979ed2" />
<rect x="269.00" y="203.90" width="5.05" height="5.05" fill="#5c67b7" />
<rect x="274.00" y="203.90" width="5.05" height="5.05" fill="#3442a6" />
<rect x="249.00" y="208.90" width="5.05" height="5.05" fill="#f9b7ba" />
<rect x="254.00" y="208.90" width="5.05" height="5.05" fill="#f25f64" />
<rect x="259.00" y="208.90" width="5.05" height="5.05" fill="#ed1c24" />
<rect x="264.00" y="208.90" width="5.05" height="5.05" fill="#bfc3e3" />
<rect x="269.00" y="208.90" width="5.05" height="5.05" fill="#7079c0" />
<rect x="274.00" y="208.90" width="5.05" height="5.05" fill="#3442a6" />
<rect x="249.00" y="213.90" width="5.05" height="5.05" fill="#ed1c24" />
<rect x="254.00" y="213.90" width="5.05" height="5.05" fill="#f1484f" />
<rect x="259.00" y="213.90" width="5.05" height="5.05" fill="#ed1c24" />
<rect x="264.00" y="213.90" width="5.05" height="5.05" fill="#4854af" />
<rect x="269.00" y="213.90" width="5.05" height="5.05" fill="#5c67b7" />
<rect x="274.00" y="213.90" width="5.05" height="5.05" fill="#3442a6" />
<rect x="249.00" y="218.90" width="5.05" height="5.05" fill="#f9b7ba" />
<rect x="254.00" y="218.90" width="5.05" height="5.05" fill="#f4757a" />
<rect x="259.00" y="218.90" width="5.05" height="5.05" fill="#ed1c24" />
<rect x="264.00" y="218.90" width="5.05" height="5.05" fill="#bfc3e3" />
<rect x="269.00" y="218.90" width="5.05" height="5.05" fill="#838cc9" />
<rect x="274.00" y="218.90" width="5.05" height="5.05" fill="#3442a6" />
<rect x="249.00" y="223.90" width="5.05" height="5.05" fill="#f68b8f" />
<rect x="254.00" y="223.90" width="5.05" height="5.05" fill="#ef3239" />
<rect x="259.00" y="223.90" width="5.05" height="5.05" fill="#ed1c24" />
<rect x="264.00" y="223.90" width="5.05" height="5.05" fill="#979ed2" />
<rect x="269.00" y="223.90" width="5.05" height="5.05" fill="#5c67b7" />
<rect x="274.00" y="223.90" width="5.05" height="5.05" fill="#3442a6" />
<rect x="249.00" y="228.90" width="5.05" height="5.05" fill="#f68b8f" />
<rect x="254.00" y="228.90" width="5.05" height="5.05" fill="#ef3239" />
<rect x="259.00" y="228.90" width="5.05" height="5.05" fill="#ed1c24" />
<rect x="264.00" y="228.90" width="5.05" height="5.05" fill="#979ed2" />
<rect x="269.00" y="228.90" width="5.05" height="5.05" fill="#5c67b7" />
<rect x="274.00" y="228.90" width="5.05" height="5.05" fill="#3442a6" />
<rect x="249.00" y="233.90" width="5.05" height="5.05" fill="#ef3239" />
<rect x="254.00" y="233.90" width="5.05" height="5.05" fill="#ef3239" />
<rect x="259.00" y="233.90" width="5.05" height="5.05" fill="#ed1c24" />
<rect x="264.00" y="233.90" width="5.05" height="5.05" fill="#4854af" />
<rect x="269.00" y="233.90" width="5.05" height="5.05" fill="#4854af" />
<rect x="274.00" y="233.90" width="5.05" height="5.05" fill="#3442a6" />
<rect x="249.00" y="238.90" width="5.05" height="5.05" fill="#f25f64" />
<rect x="254.00" y="238.90" width="5.05" height="5.05" fill="#f1484f" />
<rect x="259.00" y="238.90" width="5.05" height="5.05" fill="#ed1c24" />
<rect x="264.00" y="238.90" width="5.05" height="5.05" fill="#7079c0" />
<rect x="269.00" y="238.90" width="5.05" height="5.05" fill="#7079c0" />
<rect x="274.00" y="238.90" width="5.05" height="5.05" fill="#3442a6" />
<rect x="249.00" y="243.90" width="5.05" height="5.05" fill="#ef3239" />
<rect x="254.00" y="243.90" width="5.05" height="5.05" fill="#ed1c24" />
<rect x="259.00" y="243.90" width="5.05" height="5.05" fill="#ed1c24" />
<rect x="264.00" y="243.90" width="5.05" height="5.05" fill="#4854af" />
<rect x="269.00" y="243.90" width="5.05" height="5.05" fill="#4854af" />
<rect x="274.00" y="243.90" width="5.05" height="5.05" fill="#3442a6" />
<rect x="249.00" y="248.90" width="5.05" height="5.05" fill="#f9b7ba" />
<rect x="254.00" y="248.90" width="5.05" height="5.05" fill="#f1484f" />
<rect x="259.00" y="248.90" width="5.05" height="5.05" fill="#ed1c24" />
<rect x="264.00" y="248.90" width="5.05" height="5.05" fill="#d3d6ec" />
<rect x="269.00" y="248.90" width="5.05" height="5.05" fill="#5c67b7" />
<rect x="274.00" y="248.90" width="5.05" height="5.05" fill="#3442a6" />
<rect x="249.00" y="253.90" width="5.05" height="5.05" fill="#ed1c24" />
<rect x="254.00" y="253.90" width="5.05" height="5.05" fill="#f25f64" />
<rect x="259.00" y="253.90" width="5.05" height="5.05" fill="#ed1c24" />
<rect x="264.00" y="253.90" width="5.05" height="5.05" fill="#4854af" />
<rect x="269.00" y="253.90" width="5.05" height="5.05" fill="#7079c0" />
<rect x="274.00" y="253.90" width="5.05" height="5.05" fill="#3442a6" />
<rect x="249.00" y="258.90" width="5.05" height="5.05" fill="#f9b7ba" />
<rect x="254.00" y="258.90" width="5.05" height="5.05" fill="#f25f64" />
<rect x="259.00" y="258.90" width="5.05" height="5.05" fill="#ed1c24" />
<rect x="264.00" y="258.90" width="5.05" height="5.05" fill="#d3d6ec" />
<rect x="269.00" y="258.90" width="5.05" height="5.05" fill="#7079c0" />
<rect x="274.00" y="258.90" width="5.05" height="5.05" fill="#3442a6" />
<rect x="249.00" y="263.90" width="5.05" height="5.05" fill="#f9b7ba" />
<rect x="254.00" y="263.90" width="5.05" height="5.05" fill="#f25f64" />
<rect x="259.00" y="263.90" width="5.05" height="5.05" fill="#ed1c24" />
<rect x="264.00" y="263.90" width="5.05" height="5.05" fill="#d3d6ec" />
<rect x="269.00" y="263.90" width="5.05" height="5.05" fill="#7079c0" />
<rect x="274.00" y="263.90" width="5.05" height="5.05" fill="#3442a6" />
<rect x="249.00" y="268.90" width="5.05" height="5.05" fill="#ef3239" />
<rect x="254.00" y="268.90" width="5.05" height="5.05" fill="#ef3239" />
<rect x="259.00" y="268.90" width="5.05" height="5.05" fill="#ed1c24" />
<rect x="264.00" y="268.90" width="5.05" height="5.05" fill="#4854af" />
<rect x="269.00" y="268.90" width="5.05" height="5.05" fill="#5c67b7" />
<rect x="274.00" y="268.90" width="5.05" height="5.05" fill="#3442a6" />
<rect x="249.00" y="273.90" width="5.05" height="5.05" fill="#f9b7ba" />
<rect x="254.00" y="273.90" width="5.05" height="5.05" fill="#f25f64" />
<rect x="259.00" y="273.90" width="5.05" height="5.05" fill="#ed1c24" />
<rect x="264.00" y="273.90" width="5.05" height="5.05" fill="#d3d6ec" />
<rect x="269.00" y="273.90" width="5.05" height="5.05" fill="#7079c0" />
<rect x="274.00" y="273.90" width="5.05" height="5.05" fill="#3442a6" />
<rect x="249.00" y="278.90" width="5.05" height="5.05" fill="#f68b8f" />
<rect x="254.00" y="278.90" width="5.05" height="5.05" fill="#f1484f" />
<rect x="259.00" y="278.90" width="5.05" height="5.05" fill="#ed1c24" />
<rect x="264.00" y="278.90" width="5.05" height="5.05" fill="#abb1da" />
<rect x="269.00" y="278.90" width="5.05" height="5.05" fill="#5c67b7" />
<rect x="274.00" y="278.90" width="5.05" height="5.05" fill="#3442a6" />
<text x="248.20" y="178.20" font-size="6.00" text-anchor="end" font-style="italic">Rad51c</text>
<text x="281.20" y="178.65" font-size="6.30" textLength="10.1" lengthAdjust="spacingAndGlyphs">0.43</text>
<text x="248.20" y="183.20" font-size="6.00" text-anchor="end" font-style="italic">Rgcc</text>
<text x="281.20" y="183.65" font-size="6.30" textLength="10.1" lengthAdjust="spacingAndGlyphs">0.60</text>
<text x="248.20" y="188.20" font-size="6.00" text-anchor="end" font-style="italic">Rpa2</text>
<text x="281.20" y="188.65" font-size="6.30" textLength="10.1" lengthAdjust="spacingAndGlyphs">0.59</text>
<text x="248.20" y="193.20" font-size="6.00" text-anchor="end" font-style="italic">Rtel1</text>
<text x="281.20" y="193.65" font-size="6.30" textLength="10.1" lengthAdjust="spacingAndGlyphs">0.39</text>
<text x="248.20" y="198.20" font-size="6.00" text-anchor="end" font-style="italic">sept3</text>
<text x="281.20" y="198.65" font-size="6.30" textLength="10.1" lengthAdjust="spacingAndGlyphs">0.54</text>
<text x="248.20" y="203.20" font-size="6.00" text-anchor="end" font-style="italic">Sgo1</text>
<text x="281.20" y="203.65" font-size="6.30" textLength="10.1" lengthAdjust="spacingAndGlyphs">0.49</text>
<text x="248.20" y="208.20" font-size="6.00" text-anchor="end" font-style="italic">Sgo2a</text>
<text x="281.20" y="208.65" font-size="6.30" textLength="10.1" lengthAdjust="spacingAndGlyphs">0.50</text>
<text x="248.20" y="213.20" font-size="6.00" text-anchor="end" font-style="italic">Ska1</text>
<text x="281.20" y="213.65" font-size="6.30" textLength="10.1" lengthAdjust="spacingAndGlyphs">0.49</text>
<text x="248.20" y="218.20" font-size="6.00" text-anchor="end" font-style="italic">Ska2</text>
<text x="281.20" y="218.65" font-size="6.30" textLength="10.1" lengthAdjust="spacingAndGlyphs">0.47</text>
<text x="248.20" y="223.20" font-size="6.00" text-anchor="end" font-style="italic">Smc4</text>
<text x="281.20" y="223.65" font-size="6.30" textLength="10.1" lengthAdjust="spacingAndGlyphs">0.59</text>
<text x="248.20" y="228.20" font-size="6.00" text-anchor="end" font-style="italic">Spc24</text>
<text x="281.20" y="228.65" font-size="6.30" textLength="10.1" lengthAdjust="spacingAndGlyphs">0.35</text>
<text x="248.20" y="233.20" font-size="6.00" text-anchor="end" font-style="italic">Spc25</text>
<text x="281.20" y="233.65" font-size="6.30" textLength="10.1" lengthAdjust="spacingAndGlyphs">0.46</text>
<text x="248.20" y="238.20" font-size="6.00" text-anchor="end" font-style="italic">Stil</text>
<text x="281.20" y="238.65" font-size="6.30" textLength="10.1" lengthAdjust="spacingAndGlyphs">0.52</text>
<text x="248.20" y="243.20" font-size="6.00" text-anchor="end" font-style="italic">Stmn1</text>
<text x="281.20" y="243.65" font-size="6.30" textLength="10.1" lengthAdjust="spacingAndGlyphs">0.48</text>
<text x="248.20" y="248.20" font-size="6.00" text-anchor="end" font-style="italic">Tacc1</text>
<text x="281.20" y="248.65" font-size="6.30" textLength="10.1" lengthAdjust="spacingAndGlyphs">0.21</text>
<text x="248.20" y="253.20" font-size="6.00" text-anchor="end" font-style="italic">Tcf19</text>
<text x="281.20" y="253.65" font-size="6.30" textLength="10.1" lengthAdjust="spacingAndGlyphs">0.51</text>
<text x="248.20" y="258.20" font-size="6.00" text-anchor="end" font-style="italic">Tfdp2</text>
<text x="281.20" y="258.65" font-size="6.30" textLength="10.1" lengthAdjust="spacingAndGlyphs">0.60</text>
<text x="248.20" y="263.20" font-size="6.00" text-anchor="end" font-style="italic">Timeless</text>
<text x="281.20" y="263.65" font-size="6.30" textLength="10.1" lengthAdjust="spacingAndGlyphs">0.55</text>
<text x="248.20" y="268.20" font-size="6.00" text-anchor="end" font-style="italic">Top2a</text>
<text x="281.20" y="268.65" font-size="6.30" textLength="10.1" lengthAdjust="spacingAndGlyphs">0.51</text>
<text x="248.20" y="273.20" font-size="6.00" text-anchor="end" font-style="italic">Tubb3</text>
<text x="281.20" y="273.65" font-size="6.30" textLength="10.1" lengthAdjust="spacingAndGlyphs">0.08</text>
<text x="248.20" y="278.20" font-size="6.00" text-anchor="end" font-style="italic">Tubb5</text>
<text x="281.20" y="278.65" font-size="6.30" textLength="10.1" lengthAdjust="spacingAndGlyphs">0.64</text>
<text x="248.20" y="283.20" font-size="6.00" text-anchor="end" font-style="italic">Ush1c</text>
<text x="281.20" y="283.65" font-size="6.30" textLength="10.1" lengthAdjust="spacingAndGlyphs">0.35</text>
<rect x="249.00" y="285.60" width="30.00" height="1.80" fill="url(#grb)" />
<text x="252.80" y="291.80" font-size="3.10" text-anchor="middle">max</text>
<text x="260.20" y="291.80" font-size="3.10" text-anchor="middle">min</text>
<text x="268.00" y="291.80" font-size="3.10" text-anchor="middle">max</text>
<text x="275.40" y="291.80" font-size="3.10" text-anchor="middle">min</text>
<text x="416.40" y="138.70" font-size="6.78" text-anchor="middle">Kmt9α<tspan font-size="3.6" dy="-2.4">ind-fl/fl</tspan><tspan dy="2.4"> AOM/DSS tumor organoids</tspan></text>
<text x="416.30" y="146.70" font-size="6.78" text-anchor="middle">Cell-cycle phase distribution</text>
<rect x="379.00" y="206.65" width="8.80" height="21.35" fill="#f07572" stroke="#111" stroke-width="1.05" />
<rect x="379.00" y="176.15" width="8.80" height="30.50" fill="#2fa84f" stroke="#111" stroke-width="1.05" />
<rect x="379.00" y="169.44" width="8.80" height="6.71" fill="#7e9bd8" stroke="#111" stroke-width="1.05" />
<rect x="379.00" y="167.00" width="8.80" height="2.44" fill="#58585a" stroke="#111" stroke-width="1.05" />
<rect x="391.20" y="199.33" width="8.80" height="28.67" fill="#f07572" stroke="#111" stroke-width="1.05" />
<rect x="391.20" y="173.71" width="8.80" height="25.62" fill="#2fa84f" stroke="#111" stroke-width="1.05" />
<rect x="391.20" y="168.83" width="8.80" height="4.88" fill="#7e9bd8" stroke="#111" stroke-width="1.05" />
<rect x="391.20" y="167.00" width="8.80" height="1.83" fill="#58585a" stroke="#111" stroke-width="1.05" />
<rect x="403.60" y="200.55" width="8.80" height="27.45" fill="#f07572" stroke="#111" stroke-width="1.05" />
<rect x="403.60" y="173.10" width="8.80" height="27.45" fill="#2fa84f" stroke="#111" stroke-width="1.05" />
<rect x="403.60" y="168.83" width="8.80" height="4.27" fill="#7e9bd8" stroke="#111" stroke-width="1.05" />
<rect x="403.60" y="167.00" width="8.80" height="1.83" fill="#58585a" stroke="#111" stroke-width="1.05" />
<rect x="420.20" y="196.28" width="9.20" height="31.72" fill="#f07572" stroke="#111" stroke-width="1.05" />
<rect x="420.20" y="186.52" width="9.20" height="9.76" fill="#2fa84f" stroke="#111" stroke-width="1.05" />
<rect x="420.20" y="179.20" width="9.20" height="7.32" fill="#7e9bd8" stroke="#111" stroke-width="1.05" />
<rect x="420.20" y="167.00" width="9.20" height="12.20" fill="#58585a" stroke="#111" stroke-width="1.05" />
<rect x="433.00" y="189.57" width="9.20" height="38.43" fill="#f07572" stroke="#111" stroke-width="1.05" />
<rect x="433.00" y="177.37" width="9.20" height="12.20" fill="#2fa84f" stroke="#111" stroke-width="1.05" />
<rect x="433.00" y="173.71" width="9.20" height="3.66" fill="#7e9bd8" stroke="#111" stroke-width="1.05" />
<rect x="433.00" y="167.00" width="9.20" height="6.71" fill="#58585a" stroke="#111" stroke-width="1.05" />
<rect x="445.80" y="200.55" width="9.20" height="27.45" fill="#f07572" stroke="#111" stroke-width="1.05" />
<rect x="445.80" y="191.40" width="9.20" height="9.15" fill="#2fa84f" stroke="#111" stroke-width="1.05" />
<rect x="445.80" y="187.74" width="9.20" height="3.66" fill="#7e9bd8" stroke="#111" stroke-width="1.05" />
<rect x="445.80" y="167.00" width="9.20" height="20.74" fill="#58585a" stroke="#111" stroke-width="1.05" />
<line x1="383.40" y1="206.65" x2="383.40" y2="204.05" stroke="#111" stroke-width="1.00" />
<line x1="381.20" y1="204.05" x2="385.60" y2="204.05" stroke="#111" stroke-width="1.00" />
<line x1="383.40" y1="176.15" x2="383.40" y2="172.75" stroke="#111" stroke-width="1.00" />
<line x1="381.20" y1="172.75" x2="385.60" y2="172.75" stroke="#111" stroke-width="1.00" />
<line x1="395.60" y1="173.71" x2="395.60" y2="171.31" stroke="#111" stroke-width="1.00" />
<line x1="393.40" y1="171.31" x2="397.80" y2="171.31" stroke="#111" stroke-width="1.00" />
<line x1="395.60" y1="199.33" x2="395.60" y2="198.43" stroke="#111" stroke-width="1.00" />
<line x1="393.40" y1="198.43" x2="397.80" y2="198.43" stroke="#111" stroke-width="1.00" />
<line x1="408.00" y1="173.10" x2="408.00" y2="171.90" stroke="#111" stroke-width="1.00" />
<line x1="405.80" y1="171.90" x2="410.20" y2="171.90" stroke="#111" stroke-width="1.00" />
<line x1="408.00" y1="200.55" x2="408.00" y2="199.75" stroke="#111" stroke-width="1.00" />
<line x1="405.80" y1="199.75" x2="410.20" y2="199.75" stroke="#111" stroke-width="1.00" />
<line x1="424.80" y1="167.00" x2="424.80" y2="164.20" stroke="#111" stroke-width="1.00" />
<line x1="422.60" y1="164.20" x2="427.00" y2="164.20" stroke="#111" stroke-width="1.00" />
<line x1="424.80" y1="196.28" x2="424.80" y2="193.78" stroke="#111" stroke-width="1.00" />
<line x1="422.60" y1="193.78" x2="427.00" y2="193.78" stroke="#111" stroke-width="1.00" />
<line x1="424.80" y1="186.52" x2="424.80" y2="185.32" stroke="#111" stroke-width="1.00" />
<line x1="422.60" y1="185.32" x2="427.00" y2="185.32" stroke="#111" stroke-width="1.00" />
<line x1="437.60" y1="177.37" x2="437.60" y2="174.77" stroke="#111" stroke-width="1.00" />
<line x1="435.40" y1="174.77" x2="439.80" y2="174.77" stroke="#111" stroke-width="1.00" />
<line x1="437.60" y1="189.57" x2="437.60" y2="188.57" stroke="#111" stroke-width="1.00" />
<line x1="435.40" y1="188.57" x2="439.80" y2="188.57" stroke="#111" stroke-width="1.00" />
<line x1="437.60" y1="167.00" x2="437.60" y2="166.00" stroke="#111" stroke-width="1.00" />
<line x1="435.40" y1="166.00" x2="439.80" y2="166.00" stroke="#111" stroke-width="1.00" />
<line x1="450.40" y1="167.00" x2="450.40" y2="165.70" stroke="#111" stroke-width="1.00" />
<line x1="448.20" y1="165.70" x2="452.60" y2="165.70" stroke="#111" stroke-width="1.00" />
<line x1="450.40" y1="200.55" x2="450.40" y2="198.15" stroke="#111" stroke-width="1.00" />
<line x1="448.20" y1="198.15" x2="452.60" y2="198.15" stroke="#111" stroke-width="1.00" />
<line x1="450.40" y1="191.40" x2="450.40" y2="189.00" stroke="#111" stroke-width="1.00" />
<line x1="448.20" y1="189.00" x2="452.60" y2="189.00" stroke="#111" stroke-width="1.00" />
<line x1="375.10" y1="166.60" x2="375.10" y2="228.50" stroke="#231f20" stroke-width="1.10" />
<line x1="374.60" y1="228.00" x2="414.80" y2="228.00" stroke="#231f20" stroke-width="1.10" />
<line x1="418.00" y1="228.00" x2="457.40" y2="228.00" stroke="#231f20" stroke-width="1.10" />
<line x1="372.20" y1="228.00" x2="375.10" y2="228.00" stroke="#231f20" stroke-width="1.00" />
<text x="371.60" y="230.40" font-size="6.78" text-anchor="end">0</text>
<line x1="372.20" y1="215.80" x2="375.10" y2="215.80" stroke="#231f20" stroke-width="1.00" />
<text x="371.60" y="218.20" font-size="6.78" text-anchor="end">20</text>
<line x1="372.20" y1="203.60" x2="375.10" y2="203.60" stroke="#231f20" stroke-width="1.00" />
<text x="371.60" y="206.00" font-size="6.78" text-anchor="end">40</text>
<line x1="372.20" y1="191.40" x2="375.10" y2="191.40" stroke="#231f20" stroke-width="1.00" />
<text x="371.60" y="193.80" font-size="6.78" text-anchor="end">60</text>
<line x1="372.20" y1="179.20" x2="375.10" y2="179.20" stroke="#231f20" stroke-width="1.00" />
<text x="371.60" y="181.60" font-size="6.78" text-anchor="end">80</text>
<line x1="372.20" y1="167.00" x2="375.10" y2="167.00" stroke="#231f20" stroke-width="1.00" />
<text x="371.60" y="169.40" font-size="6.78" text-anchor="end">100</text>
<text x="0.00" y="0.00" font-size="6.78" text-anchor="middle" transform="translate(348.2 198) rotate(-90)">Cell population</text>
<text x="0.00" y="0.00" font-size="6.78" text-anchor="middle" transform="translate(355.9 198) rotate(-90)">(%)</text>
<text x="383.40" y="235.80" font-size="6.78" text-anchor="middle">#1</text>
<text x="395.60" y="235.80" font-size="6.78" text-anchor="middle">#2</text>
<text x="408.00" y="235.80" font-size="6.78" text-anchor="middle">#3</text>
<text x="424.80" y="235.80" font-size="6.78" text-anchor="middle">#1</text>
<text x="437.60" y="235.80" font-size="6.78" text-anchor="middle">#2</text>
<text x="450.40" y="235.80" font-size="6.78" text-anchor="middle">#3</text>
<line x1="378.80" y1="239.00" x2="414.20" y2="239.00" stroke="#3a3a3a" stroke-width="1.30" />
<line x1="420.80" y1="239.00" x2="457.30" y2="239.00" stroke="#3a3a3a" stroke-width="1.30" />
<text x="395.60" y="247.00" font-size="6.78" text-anchor="middle">+</text>
<text x="437.60" y="246.60" font-size="6.78" text-anchor="middle">–</text>
<text x="461.20" y="246.70" font-size="6.78">Vehicle</text>
<text x="395.60" y="256.60" font-size="6.78" text-anchor="middle">–</text>
<text x="437.60" y="257.00" font-size="6.78" text-anchor="middle">+</text>
<text x="461.20" y="256.70" font-size="6.78">Tam</text>
<text x="424.80" y="160.60" font-size="5.50" text-anchor="middle">*</text>
<text x="437.60" y="162.40" font-size="5.50" text-anchor="middle">*</text>
<text x="450.40" y="162.00" font-size="5.50" text-anchor="middle">*</text>
<rect x="460.50" y="166.70" width="6.90" height="6.90" fill="#58585a" stroke="#111" stroke-width="1.00" />
<text x="469.20" y="172.60" font-size="6.78">sub-G<tspan font-size="4.2" dy="1.6">0</tspan></text>
<rect x="460.50" y="175.55" width="6.90" height="6.90" fill="#7e9bd8" stroke="#111" stroke-width="1.00" />
<text x="469.20" y="181.45" font-size="6.78">G<tspan font-size="4.2" dy="1.6">2</tspan><tspan dy="-1.6">–M</tspan></text>
<rect x="460.50" y="184.40" width="6.90" height="6.90" fill="#2fa84f" stroke="#111" stroke-width="1.00" />
<text x="469.20" y="190.30" font-size="6.78">S</text>
<rect x="460.50" y="193.25" width="6.90" height="6.90" fill="#f07572" stroke="#111" stroke-width="1.00" />
<text x="469.20" y="199.15" font-size="6.78">G<tspan font-size="4.2" dy="1.6">1</tspan><tspan dy="-1.6">–G</tspan><tspan font-size="4.2" dy="1.6">0</tspan></text>
<text x="91.30" y="313.20" font-size="6.78" text-anchor="middle">Kmt9α<tspan font-size="3.6" dy="-2.4">ind-fl/fl</tspan><tspan dy="2.4"> AOM/DSS tumor organoids #3</tspan></text>
<text x="90.60" y="322.20" font-size="6.78" text-anchor="middle" textLength="126.7" lengthAdjust="spacingAndGlyphs">KMT9α / KMT9β / H4K12me1 co-locations</text>
<line x1="32.90" y1="325.00" x2="151.00" y2="325.00" stroke="#231f20" stroke-width="1.20" />
<text x="47.00" y="337.50" font-size="6.78" text-anchor="middle">KMT9α</text>
<text x="91.00" y="337.50" font-size="6.78" text-anchor="middle">KMT9β</text>
<text x="134.00" y="337.50" font-size="6.78" text-anchor="middle">H4K12me1</text>
<text x="14.20" y="379.00" font-size="6.78" text-anchor="middle">5,652</text>
<text x="13.00" y="387.30" font-size="6.78" text-anchor="middle">locations</text>
<filter id="cs1" x="0" y="0" width="100%" height="100%" color-interpolation-filters="sRGB"><feTurbulence type="fractalNoise" baseFrequency="0.6 0.99" numOctaves="2" seed="11"/><feColorMatrix type="matrix" values="0 0 0 0 0.200  0 0 0 0 0.208  0 0 0 0 0.549  0 0 0 3.4 -1.55"/><feComponentTransfer><feFuncA type="linear" slope="0.30"/></feComponentTransfer></filter>
<clipPath id="cp1"><rect x="33.20" y="343.00" width="27.40" height="76.60"/></clipPath>
<g clip-path="url(#cp1)">
<linearGradient id="bg1" x1="0" x2="1"><stop offset="0" stop-color="#33358c" stop-opacity="0.14"/><stop offset="0.5" stop-color="#33358c" stop-opacity="0.30"/><stop offset="1" stop-color="#33358c" stop-opacity="0.14"/></linearGradient>
<linearGradient id="fd1" x1="0" x2="0" y1="0" y2="1"><stop offset="0" stop-color="#fff" stop-opacity="0"/><stop offset="1" stop-color="#fff" stop-opacity="0.72"/></linearGradient>
<rect x="33.20" y="343.00" width="27.40" height="76.60" fill="url(#bg1)" />
<rect x="33.20" y="343.00" width="27.40" height="76.60" fill="url(#fd1)" />
<g filter="url(#blr)">
<polygon points="35.90,340.00 36.61,344.13 37.28,348.26 37.93,352.39 38.55,356.52 39.13,360.65 39.69,364.78 40.22,368.91 40.71,373.04 41.17,377.17 41.60,381.30 42.00,385.43 42.36,389.56 42.69,393.69 42.98,397.82 43.24,401.95 43.46,406.08 43.64,410.21 43.77,414.34 43.86,418.47 43.90,422.60 49.90,422.60 49.94,418.47 50.03,414.34 50.16,410.21 50.34,406.08 50.56,401.95 50.82,397.82 51.11,393.69 51.44,389.56 51.80,385.43 52.20,381.30 52.63,377.17 53.09,373.04 53.58,368.91 54.11,364.78 54.67,360.65 55.25,356.52 55.87,352.39 56.52,348.26 57.19,344.13 57.90,340.00" fill="#33358c" fill-opacity="0.18"/>
<polygon points="38.90,340.00 39.41,344.13 39.90,348.26 40.37,352.39 40.82,356.52 41.24,360.65 41.65,364.78 42.03,368.91 42.39,373.04 42.72,377.17 43.03,381.30 43.32,385.43 43.59,389.56 43.82,393.69 44.04,397.82 44.22,401.95 44.38,406.08 44.51,410.21 44.61,414.34 44.67,418.47 44.70,422.60 49.10,422.60 49.13,418.47 49.19,414.34 49.29,410.21 49.42,406.08 49.58,401.95 49.76,397.82 49.98,393.69 50.21,389.56 50.48,385.43 50.77,381.30 51.08,377.17 51.41,373.04 51.77,368.91 52.15,364.78 52.56,360.65 52.98,356.52 53.43,352.39 53.90,348.26 54.39,344.13 54.90,340.00" fill="#33358c" fill-opacity="0.34"/>
<polygon points="41.90,340.00 42.18,344.13 42.44,348.26 42.70,352.39 42.95,356.52 43.19,360.65 43.42,364.78 43.64,368.91 43.85,373.04 44.06,377.17 44.25,381.30 44.42,385.43 44.59,389.56 44.75,393.69 44.89,397.82 45.02,401.95 45.13,406.08 45.23,410.21 45.31,414.34 45.37,418.47 45.40,422.60 48.40,422.60 48.43,418.47 48.49,414.34 48.57,410.21 48.67,406.08 48.78,401.95 48.91,397.82 49.05,393.69 49.21,389.56 49.38,385.43 49.55,381.30 49.74,377.17 49.95,373.04 50.16,368.91 50.38,364.78 50.61,360.65 50.85,356.52 51.10,352.39 51.36,348.26 51.62,344.13 51.90,340.00" fill="#33358c" fill-opacity="0.50"/>
<polygon points="44.10,340.00 44.23,344.13 44.36,348.26 44.49,352.39 44.61,356.52 44.73,360.65 44.85,364.78 44.96,368.91 45.07,373.04 45.18,377.17 45.28,381.30 45.38,385.43 45.47,389.56 45.56,393.69 45.65,397.82 45.73,401.95 45.80,406.08 45.87,410.21 45.92,414.34 45.97,418.47 46.00,422.60 47.80,422.60 47.83,418.47 47.88,414.34 47.93,410.21 48.00,406.08 48.07,401.95 48.15,397.82 48.24,393.69 48.33,389.56 48.42,385.43 48.52,381.30 48.62,377.17 48.73,373.04 48.84,368.91 48.95,364.78 49.07,360.65 49.19,356.52 49.31,352.39 49.44,348.26 49.57,344.13 49.70,340.00" fill="#33358c" fill-opacity="0.60"/>
</g>
<rect x="33.20" y="343.00" width="27.40" height="76.60" filter="url(#spk)"/>
<rect x="33.20" y="343.00" width="27.40" height="76.60" filter="url(#cs1)"/>
</g>
<line x1="33.20" y1="419.20" x2="33.20" y2="420.60" stroke="#231f20" stroke-width="0.70" />
<text x="32.00" y="428.00" font-size="6.78" text-anchor="middle">–2</text>
<line x1="46.90" y1="419.20" x2="46.90" y2="420.60" stroke="#231f20" stroke-width="0.70" />
<text x="46.90" y="428.00" font-size="6.78" text-anchor="middle">0</text>
<line x1="60.60" y1="419.20" x2="60.60" y2="420.60" stroke="#231f20" stroke-width="0.70" />
<text x="60.60" y="428.00" font-size="6.78" text-anchor="middle">2</text>
<filter id="cs2" x="0" y="0" width="100%" height="100%" color-interpolation-filters="sRGB"><feTurbulence type="fractalNoise" baseFrequency="0.6 0.99" numOctaves="2" seed="12"/><feColorMatrix type="matrix" values="0 0 0 0 0.933  0 0 0 0 0.165  0 0 0 0 0.110  0 0 0 3.4 -1.55"/><feComponentTransfer><feFuncA type="linear" slope="0.25"/></feComponentTransfer></filter>
<clipPath id="cp2"><rect x="77.00" y="343.00" width="27.60" height="76.60"/></clipPath>
<g clip-path="url(#cp2)">
<linearGradient id="bg2" x1="0" x2="1"><stop offset="0" stop-color="#ee2a1c" stop-opacity="0.46"/><stop offset="0.5" stop-color="#ee2a1c" stop-opacity="0.62"/><stop offset="1" stop-color="#ee2a1c" stop-opacity="0.46"/></linearGradient>
<linearGradient id="fd2" x1="0" x2="0" y1="0" y2="1"><stop offset="0" stop-color="#fff" stop-opacity="0"/><stop offset="1" stop-color="#fff" stop-opacity="0.45"/></linearGradient>
<rect x="77.00" y="343.00" width="27.60" height="76.60" fill="url(#bg2)" />
<rect x="77.00" y="343.00" width="27.60" height="76.60" fill="url(#fd2)" />
<g filter="url(#blr)">
<polygon points="78.80,340.00 79.38,344.13 79.95,348.26 80.49,352.39 81.02,356.52 81.53,360.65 82.02,364.78 82.49,368.91 82.93,373.04 83.36,377.17 83.76,381.30 84.14,385.43 84.49,389.56 84.82,393.69 85.12,397.82 85.39,401.95 85.64,406.08 85.84,410.21 86.01,414.34 86.14,418.47 86.20,422.60 95.40,422.60 95.46,418.47 95.59,414.34 95.76,410.21 95.96,406.08 96.21,401.95 96.48,397.82 96.78,393.69 97.11,389.56 97.46,385.43 97.84,381.30 98.24,377.17 98.67,373.04 99.11,368.91 99.58,364.78 100.07,360.65 100.58,356.52 101.11,352.39 101.65,348.26 102.22,344.13 102.80,340.00" fill="#ee2a1c" fill-opacity="0.30"/>
<polygon points="81.80,340.00 82.19,344.13 82.56,348.26 82.92,352.39 83.28,356.52 83.62,360.65 83.95,364.78 84.27,368.91 84.58,373.04 84.88,377.17 85.16,381.30 85.43,385.43 85.68,389.56 85.92,393.69 86.15,397.82 86.35,401.95 86.53,406.08 86.70,410.21 86.84,414.34 86.94,418.47 87.00,422.60 94.60,422.60 94.66,418.47 94.76,414.34 94.90,410.21 95.07,406.08 95.25,401.95 95.45,397.82 95.68,393.69 95.92,389.56 96.17,385.43 96.44,381.30 96.72,377.17 97.02,373.04 97.33,368.91 97.65,364.78 97.98,360.65 98.32,356.52 98.68,352.39 99.04,348.26 99.41,344.13 99.80,340.00" fill="#ee2a1c" fill-opacity="0.50"/>
<polygon points="84.30,340.00 84.56,344.13 84.81,348.26 85.05,352.39 85.29,356.52 85.53,360.65 85.75,364.78 85.98,368.91 86.19,373.04 86.40,377.17 86.60,381.30 86.79,385.43 86.97,389.56 87.15,393.69 87.31,397.82 87.47,401.95 87.61,406.08 87.74,410.21 87.85,414.34 87.94,418.47 88.00,422.60 93.60,422.60 93.66,418.47 93.75,414.34 93.86,410.21 93.99,406.08 94.13,401.95 94.29,397.82 94.45,393.69 94.63,389.56 94.81,385.43 95.00,381.30 95.20,377.17 95.41,373.04 95.62,368.91 95.85,364.78 96.07,360.65 96.31,356.52 96.55,352.39 96.79,348.26 97.04,344.13 97.30,340.00" fill="#ee2a1c" fill-opacity="0.65"/>
<polygon points="87.30,340.00 87.41,344.13 87.53,348.26 87.64,352.39 87.75,356.52 87.85,360.65 87.96,364.78 88.07,368.91 88.17,373.04 88.27,377.17 88.37,381.30 88.47,385.43 88.57,389.56 88.66,393.69 88.75,397.82 88.84,401.95 88.92,406.08 89.00,410.21 89.08,414.34 89.15,418.47 89.20,422.60 92.40,422.60 92.45,418.47 92.52,414.34 92.60,410.21 92.68,406.08 92.76,401.95 92.85,397.82 92.94,393.69 93.03,389.56 93.13,385.43 93.23,381.30 93.33,377.17 93.43,373.04 93.53,368.91 93.64,364.78 93.75,360.65 93.85,356.52 93.96,352.39 94.07,348.26 94.19,344.13 94.30,340.00" fill="#ee2a1c" fill-opacity="0.70"/>
</g>
<rect x="77.00" y="343.00" width="27.60" height="76.60" filter="url(#spk)"/>
<rect x="77.00" y="343.00" width="27.60" height="76.60" filter="url(#cs2)"/>
</g>
<line x1="77.10" y1="419.20" x2="77.10" y2="420.60" stroke="#231f20" stroke-width="0.70" />
<text x="75.90" y="428.00" font-size="6.78" text-anchor="middle">–2</text>
<line x1="90.80" y1="419.20" x2="90.80" y2="420.60" stroke="#231f20" stroke-width="0.70" />
<text x="90.80" y="428.00" font-size="6.78" text-anchor="middle">0</text>
<line x1="104.50" y1="419.20" x2="104.50" y2="420.60" stroke="#231f20" stroke-width="0.70" />
<text x="104.50" y="428.00" font-size="6.78" text-anchor="middle">2</text>
<filter id="cs3" x="0" y="0" width="100%" height="100%" color-interpolation-filters="sRGB"><feTurbulence type="fractalNoise" baseFrequency="0.6 0.99" numOctaves="2" seed="13"/><feColorMatrix type="matrix" values="0 0 0 0 0.141  0 0 0 0 0.600  0 0 0 0 0.416  0 0 0 3.4 -1.55"/><feComponentTransfer><feFuncA type="linear" slope="0.28"/></feComponentTransfer></filter>
<clipPath id="cp3"><rect x="120.20" y="343.00" width="27.40" height="76.60"/></clipPath>
<g clip-path="url(#cp3)">
<linearGradient id="bg3" x1="0" x2="1"><stop offset="0" stop-color="#24996a" stop-opacity="0.27"/><stop offset="0.5" stop-color="#24996a" stop-opacity="0.40"/><stop offset="1" stop-color="#24996a" stop-opacity="0.27"/></linearGradient>
<linearGradient id="fd3" x1="0" x2="0" y1="0" y2="1"><stop offset="0" stop-color="#fff" stop-opacity="0"/><stop offset="1" stop-color="#fff" stop-opacity="0.60"/></linearGradient>
<rect x="120.20" y="343.00" width="27.40" height="76.60" fill="url(#bg3)" />
<rect x="120.20" y="343.00" width="27.40" height="76.60" fill="url(#fd3)" />
<g filter="url(#blr)">
<polygon points="122.90,340.00 123.72,344.13 124.50,348.26 125.23,352.39 125.92,356.52 126.58,360.65 127.18,364.78 127.75,368.91 128.28,373.04 128.76,377.17 129.20,381.30 129.60,385.43 129.96,389.56 130.27,393.69 130.54,397.82 130.78,401.95 130.96,406.08 131.11,410.21 131.22,414.34 131.28,418.47 131.30,422.60 136.50,422.60 136.52,418.47 136.58,414.34 136.69,410.21 136.84,406.08 137.03,401.95 137.26,397.82 137.53,393.69 137.84,389.56 138.20,385.43 138.60,381.30 139.04,377.17 139.52,373.04 140.05,368.91 140.62,364.78 141.22,360.65 141.88,356.52 142.57,352.39 143.30,348.26 144.08,344.13 144.90,340.00" fill="#24996a" fill-opacity="0.14"/>
<polygon points="125.90,340.00 126.48,344.13 127.04,348.26 127.57,352.39 128.06,356.52 128.53,360.65 128.96,364.78 129.37,368.91 129.74,373.04 130.09,377.17 130.40,381.30 130.69,385.43 130.94,389.56 131.16,393.69 131.36,397.82 131.53,401.95 131.66,406.08 131.77,410.21 131.84,414.34 131.89,418.47 131.90,422.60 135.90,422.60 135.91,418.47 135.96,414.34 136.03,410.21 136.14,406.08 136.28,401.95 136.44,397.82 136.64,393.69 136.86,389.56 137.12,385.43 137.40,381.30 137.72,377.17 138.06,373.04 138.44,368.91 138.84,364.78 139.28,360.65 139.74,356.52 140.24,352.39 140.76,348.26 141.31,344.13 141.90,340.00" fill="#24996a" fill-opacity="0.24"/>
<polygon points="129.40,340.00 129.68,344.13 129.95,348.26 130.21,352.39 130.46,356.52 130.69,360.65 130.92,364.78 131.13,368.91 131.32,373.04 131.51,377.17 131.68,381.30 131.84,385.43 131.99,389.56 132.12,393.69 132.23,397.82 132.34,401.95 132.42,406.08 132.49,410.21 132.55,414.34 132.59,418.47 132.60,422.60 135.20,422.60 135.21,418.47 135.25,414.34 135.31,410.21 135.38,406.08 135.46,401.95 135.57,397.82 135.68,393.69 135.81,389.56 135.96,385.43 136.12,381.30 136.29,377.17 136.48,373.04 136.67,368.91 136.88,364.78 137.11,360.65 137.34,356.52 137.59,352.39 137.85,348.26 138.12,344.13 138.40,340.00" fill="#24996a" fill-opacity="0.36"/>
<polygon points="131.70,340.00 131.80,344.13 131.89,348.26 131.98,352.39 132.08,356.52 132.16,360.65 132.25,364.78 132.33,368.91 132.42,373.04 132.49,377.17 132.57,381.30 132.64,385.43 132.71,389.56 132.78,393.69 132.84,397.82 132.90,401.95 132.95,406.08 133.00,410.21 133.04,414.34 133.08,418.47 133.10,422.60 134.70,422.60 134.72,418.47 134.76,414.34 134.80,410.21 134.85,406.08 134.90,401.95 134.96,397.82 135.02,393.69 135.09,389.56 135.16,385.43 135.23,381.30 135.31,377.17 135.38,373.04 135.47,368.91 135.55,364.78 135.64,360.65 135.72,356.52 135.82,352.39 135.91,348.26 136.00,344.13 136.10,340.00" fill="#24996a" fill-opacity="0.45"/>
</g>
<rect x="120.20" y="343.00" width="27.40" height="76.60" filter="url(#spk)"/>
<rect x="120.20" y="343.00" width="27.40" height="76.60" filter="url(#cs3)"/>
</g>
<line x1="120.20" y1="419.20" x2="120.20" y2="420.60" stroke="#231f20" stroke-width="0.70" />
<text x="119.00" y="428.00" font-size="6.78" text-anchor="middle">–2</text>
<line x1="133.90" y1="419.20" x2="133.90" y2="420.60" stroke="#231f20" stroke-width="0.70" />
<text x="133.90" y="428.00" font-size="6.78" text-anchor="middle">0</text>
<line x1="147.60" y1="419.20" x2="147.60" y2="420.60" stroke="#231f20" stroke-width="0.70" />
<text x="147.60" y="428.00" font-size="6.78" text-anchor="middle">2</text>
<text x="151.60" y="428.00" font-size="6.78">kb</text>
<text x="27.80" y="438.50" font-size="6.78">Normalized read depth</text>
<rect x="34.40" y="440.30" width="25.60" height="4.20" fill="url(#gb)" stroke="#231f20" stroke-width="0.50" />
<line x1="36.96" y1="440.30" x2="36.96" y2="442.10" stroke="#231f20" stroke-width="0.35" />
<line x1="39.52" y1="440.30" x2="39.52" y2="442.10" stroke="#231f20" stroke-width="0.35" />
<line x1="42.08" y1="440.30" x2="42.08" y2="442.10" stroke="#231f20" stroke-width="0.35" />
<line x1="44.64" y1="440.30" x2="44.64" y2="442.10" stroke="#231f20" stroke-width="0.35" />
<line x1="47.20" y1="440.30" x2="47.20" y2="442.10" stroke="#231f20" stroke-width="0.35" />
<line x1="49.76" y1="440.30" x2="49.76" y2="442.10" stroke="#231f20" stroke-width="0.35" />
<line x1="52.32" y1="440.30" x2="52.32" y2="442.10" stroke="#231f20" stroke-width="0.35" />
<line x1="54.88" y1="440.30" x2="54.88" y2="442.10" stroke="#231f20" stroke-width="0.35" />
<line x1="57.44" y1="440.30" x2="57.44" y2="442.10" stroke="#231f20" stroke-width="0.35" />
<text x="34.60" y="451.20" font-size="6.78" text-anchor="middle">0</text>
<text x="59.40" y="451.20" font-size="6.78" text-anchor="middle">10</text>
<rect x="78.40" y="440.30" width="25.60" height="4.20" fill="url(#gr)" stroke="#231f20" stroke-width="0.50" />
<line x1="80.96" y1="440.30" x2="80.96" y2="442.10" stroke="#231f20" stroke-width="0.35" />
<line x1="83.52" y1="440.30" x2="83.52" y2="442.10" stroke="#231f20" stroke-width="0.35" />
<line x1="86.08" y1="440.30" x2="86.08" y2="442.10" stroke="#231f20" stroke-width="0.35" />
<line x1="88.64" y1="440.30" x2="88.64" y2="442.10" stroke="#231f20" stroke-width="0.35" />
<line x1="91.20" y1="440.30" x2="91.20" y2="442.10" stroke="#231f20" stroke-width="0.35" />
<line x1="93.76" y1="440.30" x2="93.76" y2="442.10" stroke="#231f20" stroke-width="0.35" />
<line x1="96.32" y1="440.30" x2="96.32" y2="442.10" stroke="#231f20" stroke-width="0.35" />
<line x1="98.88" y1="440.30" x2="98.88" y2="442.10" stroke="#231f20" stroke-width="0.35" />
<line x1="101.44" y1="440.30" x2="101.44" y2="442.10" stroke="#231f20" stroke-width="0.35" />
<text x="78.60" y="451.20" font-size="6.78" text-anchor="middle">0</text>
<text x="103.40" y="451.20" font-size="6.78" text-anchor="middle">10</text>
<rect x="121.20" y="440.30" width="25.60" height="4.20" fill="url(#gg)" stroke="#231f20" stroke-width="0.50" />
<line x1="123.76" y1="440.30" x2="123.76" y2="442.10" stroke="#231f20" stroke-width="0.35" />
<line x1="126.32" y1="440.30" x2="126.32" y2="442.10" stroke="#231f20" stroke-width="0.35" />
<line x1="128.88" y1="440.30" x2="128.88" y2="442.10" stroke="#231f20" stroke-width="0.35" />
<line x1="131.44" y1="440.30" x2="131.44" y2="442.10" stroke="#231f20" stroke-width="0.35" />
<line x1="134.00" y1="440.30" x2="134.00" y2="442.10" stroke="#231f20" stroke-width="0.35" />
<line x1="136.56" y1="440.30" x2="136.56" y2="442.10" stroke="#231f20" stroke-width="0.35" />
<line x1="139.12" y1="440.30" x2="139.12" y2="442.10" stroke="#231f20" stroke-width="0.35" />
<line x1="141.68" y1="440.30" x2="141.68" y2="442.10" stroke="#231f20" stroke-width="0.35" />
<line x1="144.24" y1="440.30" x2="144.24" y2="442.10" stroke="#231f20" stroke-width="0.35" />
<text x="121.40" y="451.20" font-size="6.78" text-anchor="middle">0</text>
<text x="146.20" y="451.20" font-size="6.78" text-anchor="middle">10</text>
<line x1="91.00" y1="456.00" x2="91.00" y2="462.50" stroke="#000" stroke-width="1.40" />
<polygon points="87.8,460.6 91,461.6 94.2,460.6 91,466.6" fill="#000"/>
<text x="88.80" y="477.20" font-size="6.78" text-anchor="middle">3,239 genes at the promoter</text>
<text x="256.60" y="312.60" font-size="6.78" text-anchor="middle">Kmt9α<tspan font-size="3.6" dy="-2.4">ind-fl/fl</tspan><tspan dy="2.4"> AOM/DSS tumor organoids #3</tspan></text>
<text x="256.40" y="321.20" font-size="6.78" text-anchor="middle">ChIP-Seq read density profile</text>
<text x="256.30" y="328.80" font-size="6.78" text-anchor="middle" textLength="102.8" lengthAdjust="spacingAndGlyphs">on KMT9α, KMT9β, and H4K12me1</text>
<polyline points="205.4,398.82 205.9,398.26 206.4,398.28 206.9,398.61 207.4,398.38 207.9,398.37 208.4,398.17 208.9,398.01 209.4,398.45 209.9,398.43 210.4,397.76 210.9,397.97 211.4,397.64 211.9,398.10 212.4,397.66 212.9,397.34 213.4,397.57 213.9,396.89 214.4,396.76 214.9,397.22 215.4,397.02 215.9,396.42 216.4,395.87 216.9,396.00 217.4,395.80 217.9,395.29 218.4,395.17 218.9,394.57 219.4,393.90 219.9,393.27 220.4,392.79 220.9,392.02 221.4,391.16 221.9,389.98 222.4,388.95 222.9,387.82 223.4,385.70 223.9,384.14 224.4,382.04 224.9,380.02 225.4,376.72 225.9,373.71 226.4,370.71 226.9,366.56 227.4,361.86 227.9,357.10 228.4,351.96 228.9,347.33 229.4,342.22 229.9,337.85 230.4,341.72 230.9,345.42 231.4,349.33 231.9,353.57 232.4,357.98 232.9,361.89 233.4,366.01 233.9,369.26 234.4,371.93 234.9,374.97 235.4,377.61 235.9,379.51 236.4,381.33 236.9,383.07 237.4,384.80 237.9,386.10 238.4,387.24 238.9,388.10 239.4,389.23 239.9,390.16 240.4,390.85 240.9,391.86 241.4,392.45 241.9,392.51 242.4,392.79 242.9,393.52 243.4,394.06 243.9,394.59 244.4,394.67 244.9,394.62 245.4,395.05 245.9,395.47 246.4,395.46 246.9,396.13 247.4,396.11 247.9,395.97 248.4,396.40 248.9,396.64 249.4,396.92 249.9,396.84 250.4,396.66 250.9,397.47 251.4,397.00 251.9,397.07 252.4,397.12 252.9,397.31 253.4,397.34 253.9,397.62 254.4,397.66 254.9,397.83 255.4,398.16 255.9,397.62 256.4,397.90 256.9,398.22 257.4,398.05 257.9,398.11 258.4,398.25 258.9,398.30 259.4,398.20 259.9,398.17 260.4,398.22 260.9,398.37 261.4,398.72 261.9,398.60 262.4,398.67 262.9,398.40 263.4,398.23 263.9,398.30 264.4,398.33 264.9,398.34 265.4,398.77 265.9,398.36 266.4,398.51 266.9,398.96 267.4,399.03 267.9,399.05 268.4,398.53 268.9,398.92 269.4,399.04 269.9,398.68 270.4,398.90 270.9,399.12 271.4,399.07 271.9,398.81 272.4,399.09 272.9,399.03 273.4,398.72 273.9,398.92 274.4,399.03 274.9,398.93 275.4,399.27 275.9,399.02 276.4,399.00 276.9,399.18 277.4,399.25 277.9,398.68 278.4,398.98 278.9,399.21 279.4,398.93 279.9,398.78 280.4,399.37 280.9,399.38 281.4,399.30 281.9,398.89 282.4,399.30 282.9,398.91 283.4,398.94 283.9,399.04 284.4,399.29 284.9,398.74 285.4,398.88 285.9,399.09 286.4,399.31 286.9,399.00 287.4,399.19 287.9,399.07 288.4,399.26 288.9,399.04 289.4,399.46 289.9,399.29 290.4,398.81 290.9,398.88 291.4,399.30 291.9,398.90 292.4,399.31 292.9,398.85 293.4,399.00 293.9,399.24 294.4,399.36 294.9,399.55 295.4,398.91 295.9,399.53 296.4,398.96 296.9,398.86 297.4,399.15 297.9,399.45 298.4,398.94 298.9,398.87 299.4,399.07 299.9,399.21 300.4,399.31 300.9,399.34 301.4,399.44 301.9,399.10 302.4,400.38 302.9,400.56 303.4,400.63 303.9,400.22 304.4,400.49 304.9,399.25 305.4,399.38 305.9,398.98 306.4,398.96 306.9,399.61 307.4,399.48 307.9,399.38 308.4,398.90 308.9,399.05 309.4,399.38 309.9,399.48 310.4,399.14 310.9,399.02 311.4,398.95 311.9,399.39 312.4,398.99 312.9,399.14 313.4,399.29 313.9,398.92 314.4,399.47 314.9,399.12 315.4,399.59 315.9,399.53 316.4,398.98 316.9,399.50 317.4,399.10 317.9,399.22 318.4,399.04 318.9,399.39 319.4,399.41 319.9,399.45 320.4,399.03 320.9,399.22 321.4,398.96 321.9,399.02 322.4,399.57 322.9,399.26 323.4,399.59 323.9,399.64 324.4,399.62 324.9,399.04 325.4,399.09 325.9,399.07 326.4,399.42 326.9,399.22 327.4,399.10 327.9,399.40 328.4,399.26" fill="none" stroke="#4a5fa8" stroke-width="1.0" stroke-linejoin="round"/>
<polyline points="205.4,399.34 205.9,399.11 206.4,399.24 206.9,399.07 207.4,399.05 207.9,399.45 208.4,399.49 208.9,398.88 209.4,399.30 209.9,399.32 210.4,398.75 210.9,399.13 211.4,398.86 211.9,399.12 212.4,398.99 212.9,399.34 213.4,398.98 213.9,398.80 214.4,399.04 214.9,398.87 215.4,398.91 215.9,399.34 216.4,398.82 216.9,398.92 217.4,399.12 217.9,399.29 218.4,398.65 218.9,398.91 219.4,398.70 219.9,398.54 220.4,398.62 220.9,398.42 221.4,398.75 221.9,398.38 222.4,398.56 222.9,398.11 223.4,398.04 223.9,398.49 224.4,398.31 224.9,398.08 225.4,397.32 225.9,397.47 226.4,397.04 226.9,396.95 227.4,396.43 227.9,396.10 228.4,395.67 228.9,395.05 229.4,394.60 229.9,393.96 230.4,394.40 230.9,394.53 231.4,394.93 231.9,395.19 232.4,395.77 232.9,396.47 233.4,396.26 233.9,396.45 234.4,396.73 234.9,397.19 235.4,397.27 235.9,397.80 236.4,397.48 236.9,397.80 237.4,398.12 237.9,398.38 238.4,397.88 238.9,397.86 239.4,398.59 239.9,398.13 240.4,398.47 240.9,398.71 241.4,398.65 241.9,398.34 242.4,398.30 242.9,398.94 243.4,398.55 243.9,399.00 244.4,398.53 244.9,398.84 245.4,398.46 245.9,398.41 246.4,398.78 246.9,398.43 247.4,398.96 247.9,399.14 248.4,398.77 248.9,399.20 249.4,399.10 249.9,398.95 250.4,398.82 250.9,399.16 251.4,399.26 251.9,398.66 252.4,399.08 252.9,398.61 253.4,398.67 253.9,399.06 254.4,399.00 254.9,398.97 255.4,398.88 255.9,398.93 256.4,398.96 256.9,398.92 257.4,398.69 257.9,399.02 258.4,399.08 258.9,398.87 259.4,399.23 259.9,399.19 260.4,398.70 260.9,399.04 261.4,399.02 261.9,399.42 262.4,399.13 262.9,399.01 263.4,399.43 263.9,398.99 264.4,398.99 264.9,399.41 265.4,399.00 265.9,399.12 266.4,398.96 266.9,399.21 267.4,398.95 267.9,398.93 268.4,399.46 268.9,399.43 269.4,398.98 269.9,398.78 270.4,399.30 270.9,399.15 271.4,399.05 271.9,399.26 272.4,399.23 272.9,399.27 273.4,399.23 273.9,399.06 274.4,399.28 274.9,399.23 275.4,398.94 275.9,399.49 276.4,399.09 276.9,398.97 277.4,399.28 277.9,399.35 278.4,398.93 278.9,399.34 279.4,399.38 279.9,399.20 280.4,399.01 280.9,399.45 281.4,399.29 281.9,399.28 282.4,398.91 282.9,399.20 283.4,398.90 283.9,399.40 284.4,399.28 284.9,399.05 285.4,398.88 285.9,399.20 286.4,399.37 286.9,399.45 287.4,399.15 287.9,399.40 288.4,398.95 288.9,398.92 289.4,399.40 289.9,399.33 290.4,398.95 290.9,399.07 291.4,398.95 291.9,399.29 292.4,399.45 292.9,399.33 293.4,398.96 293.9,399.35 294.4,399.29 294.9,399.24 295.4,399.24 295.9,399.25 296.4,398.87 296.9,399.43 297.4,399.54 297.9,398.86 298.4,398.90 298.9,398.83 299.4,399.23 299.9,398.85 300.4,398.87 300.9,399.39 301.4,399.00 301.9,398.94 302.4,400.17 302.9,400.27 303.4,400.44 303.9,400.40 304.4,400.49 304.9,399.50 305.4,399.12 305.9,399.34 306.4,398.96 306.9,399.52 307.4,398.89 307.9,399.05 308.4,398.88 308.9,398.90 309.4,398.90 309.9,399.13 310.4,399.55 310.9,399.01 311.4,399.43 311.9,399.34 312.4,399.07 312.9,399.17 313.4,399.25 313.9,398.87 314.4,399.11 314.9,399.31 315.4,399.37 315.9,398.93 316.4,399.21 316.9,398.99 317.4,399.30 317.9,399.41 318.4,399.17 318.9,398.96 319.4,399.43 319.9,398.98 320.4,398.88 320.9,398.97 321.4,398.96 321.9,399.55 322.4,399.10 322.9,398.93 323.4,399.52 323.9,399.36 324.4,399.36 324.9,399.17 325.4,399.25 325.9,399.21 326.4,398.99 326.9,399.56 327.4,399.52 327.9,399.47 328.4,399.47" fill="none" stroke="#2e8b57" stroke-width="1.0" stroke-linejoin="round"/>
<polyline points="205.4,398.58 205.9,398.59 206.4,399.23 206.9,399.21 207.4,398.65 207.9,398.72 208.4,398.76 208.9,399.02 209.4,398.79 209.9,398.79 210.4,398.80 210.9,399.10 211.4,398.89 211.9,398.90 212.4,398.65 212.9,398.43 213.4,398.45 213.9,398.73 214.4,398.79 214.9,398.90 215.4,399.04 215.9,399.02 216.4,398.67 216.9,398.74 217.4,398.66 217.9,398.24 218.4,398.46 218.9,398.38 219.4,398.55 219.9,398.64 220.4,398.33 220.9,398.37 221.4,397.98 221.9,397.50 222.4,397.58 222.9,397.76 223.4,397.03 223.9,396.86 224.4,396.62 224.9,396.15 225.4,395.86 225.9,395.37 226.4,395.15 226.9,394.05 227.4,393.34 227.9,393.13 228.4,391.83 228.9,390.98 229.4,390.31 229.9,389.46 230.4,390.08 230.9,390.43 231.4,391.44 231.9,391.92 232.4,392.96 232.9,393.22 233.4,393.80 233.9,394.65 234.4,395.04 234.9,395.19 235.4,395.69 235.9,396.18 236.4,396.64 236.9,396.81 237.4,396.74 237.9,397.32 238.4,396.93 238.9,397.55 239.4,397.20 239.9,397.76 240.4,397.38 240.9,397.66 241.4,397.89 241.9,397.95 242.4,397.92 242.9,398.02 243.4,398.28 243.9,398.40 244.4,398.23 244.9,397.96 245.4,398.23 245.9,398.66 246.4,398.15 246.9,398.25 247.4,398.14 247.9,398.69 248.4,398.31 248.9,398.84 249.4,398.42 249.9,398.72 250.4,398.77 250.9,398.32 251.4,398.90 251.9,398.61 252.4,398.38 252.9,398.84 253.4,398.88 253.9,398.40 254.4,398.75 254.9,398.54 255.4,399.06 255.9,398.82 256.4,398.97 256.9,398.62 257.4,399.06 257.9,398.43 258.4,399.12 258.9,398.61 259.4,399.14 259.9,398.97 260.4,398.57 260.9,399.06 261.4,399.04 261.9,398.68 262.4,398.91 262.9,399.17 263.4,398.48 263.9,399.10 264.4,399.19 264.9,398.97 265.4,398.77 265.9,398.68 266.4,399.15 266.9,398.99 267.4,399.22 267.9,398.92 268.4,398.69 268.9,398.71 269.4,398.60 269.9,398.71 270.4,398.63 270.9,398.75 271.4,398.92 271.9,399.11 272.4,398.79 272.9,399.05 273.4,399.21 273.9,398.96 274.4,398.65 274.9,399.20 275.4,398.86 275.9,399.01 276.4,398.92 276.9,399.20 277.4,398.60 277.9,399.12 278.4,398.86 278.9,399.00 279.4,399.30 279.9,398.90 280.4,399.21 280.9,399.28 281.4,399.29 281.9,399.20 282.4,399.25 282.9,398.86 283.4,398.95 283.9,398.61 284.4,398.64 284.9,398.60 285.4,399.16 285.9,399.01 286.4,399.15 286.9,398.90 287.4,398.88 287.9,398.75 288.4,398.82 288.9,399.15 289.4,399.03 289.9,398.96 290.4,399.34 290.9,399.32 291.4,399.04 291.9,399.26 292.4,398.82 292.9,399.17 293.4,399.27 293.9,399.22 294.4,399.18 294.9,399.19 295.4,398.97 295.9,399.01 296.4,399.13 296.9,398.88 297.4,399.20 297.9,398.69 298.4,398.65 298.9,398.82 299.4,399.04 299.9,398.98 300.4,398.93 300.9,399.32 301.4,399.05 301.9,398.97 302.4,400.33 302.9,400.39 303.4,399.87 303.9,400.19 304.4,400.08 304.9,398.69 305.4,398.91 305.9,399.15 306.4,398.64 306.9,399.09 307.4,399.35 307.9,398.86 308.4,399.29 308.9,399.14 309.4,398.75 309.9,398.87 310.4,399.35 310.9,399.04 311.4,399.07 311.9,399.01 312.4,399.21 312.9,398.94 313.4,399.31 313.9,399.16 314.4,399.10 314.9,398.68 315.4,399.31 315.9,398.82 316.4,399.23 316.9,398.95 317.4,399.08 317.9,399.03 318.4,398.82 318.9,399.08 319.4,399.28 319.9,399.28 320.4,399.31 320.9,398.75 321.4,398.90 321.9,398.67 322.4,398.86 322.9,399.35 323.4,398.89 323.9,398.80 324.4,398.84 324.9,399.01 325.4,399.11 325.9,399.04 326.4,398.79 326.9,399.18 327.4,398.99 327.9,399.02 328.4,398.67" fill="none" stroke="#d9473f" stroke-width="1.0" stroke-linejoin="round"/>
<line x1="205.40" y1="337.50" x2="205.40" y2="403.00" stroke="#231f20" stroke-width="1.10" />
<line x1="204.85" y1="402.50" x2="328.40" y2="402.50" stroke="#231f20" stroke-width="1.10" />
<line x1="202.40" y1="402.50" x2="205.40" y2="402.50" stroke="#231f20" stroke-width="1.00" />
<text x="201.20" y="404.90" font-size="6.78" text-anchor="end">0</text>
<line x1="202.40" y1="384.17" x2="205.40" y2="384.17" stroke="#231f20" stroke-width="1.00" />
<text x="201.20" y="386.57" font-size="6.78" text-anchor="end">1</text>
<line x1="202.40" y1="365.84" x2="205.40" y2="365.84" stroke="#231f20" stroke-width="1.00" />
<text x="201.20" y="368.24" font-size="6.78" text-anchor="end">2</text>
<line x1="202.40" y1="347.51" x2="205.40" y2="347.51" stroke="#231f20" stroke-width="1.00" />
<text x="201.20" y="349.91" font-size="6.78" text-anchor="end">3</text>
<line x1="205.40" y1="402.50" x2="205.40" y2="405.50" stroke="#231f20" stroke-width="1.00" />
<text x="204.80" y="412.90" font-size="6.78" text-anchor="middle">–3,000</text>
<line x1="229.90" y1="402.50" x2="229.90" y2="405.50" stroke="#231f20" stroke-width="1.00" />
<text x="229.90" y="412.90" font-size="6.78" text-anchor="middle">TSS</text>
<line x1="254.40" y1="402.50" x2="254.40" y2="405.50" stroke="#231f20" stroke-width="1.00" />
<text x="254.40" y="412.90" font-size="6.78" text-anchor="middle">33%</text>
<line x1="278.90" y1="402.50" x2="278.90" y2="405.50" stroke="#231f20" stroke-width="1.00" />
<text x="278.90" y="412.90" font-size="6.78" text-anchor="middle">66%</text>
<line x1="303.40" y1="402.50" x2="303.40" y2="405.50" stroke="#231f20" stroke-width="1.00" />
<text x="303.40" y="412.90" font-size="6.78" text-anchor="middle">TES</text>
<line x1="327.90" y1="402.50" x2="327.90" y2="405.50" stroke="#231f20" stroke-width="1.00" />
<text x="327.90" y="412.90" font-size="6.78" text-anchor="middle">3,000</text>
<text x="264.00" y="422.40" font-size="6.78" text-anchor="middle">Genomic region (5' -&gt; 3')</text>
<text x="0.00" y="0.00" font-size="6.78" text-anchor="middle" transform="translate(185.6 371) rotate(-90)">Mapped read counts</text>
<text x="0.00" y="0.00" font-size="6.78" text-anchor="middle" transform="translate(192.0 371) rotate(-90)">(per million)</text>
<line x1="287.20" y1="370.40" x2="293.00" y2="370.40" stroke="#4a5fa8" stroke-width="1.10" />
<text x="295.80" y="372.80" font-size="6.78">KMT9α</text>
<line x1="287.20" y1="377.40" x2="293.00" y2="377.40" stroke="#d9473f" stroke-width="1.10" />
<text x="295.80" y="379.80" font-size="6.78">KMT9β</text>
<line x1="287.20" y1="385.20" x2="293.00" y2="385.20" stroke="#2e8b57" stroke-width="1.10" />
<text x="295.80" y="387.60" font-size="6.78">H4K12me1</text>
<text x="438.50" y="312.60" font-size="6.78" text-anchor="middle">Kmt9α<tspan font-size="3.6" dy="-2.4">ind-fl/fl</tspan><tspan dy="2.4"> AOM/DSS tumor organoids #3</tspan></text>
<text x="438.50" y="321.00" font-size="6.78" text-anchor="middle">KMT9 direct target genes</text>
<line x1="358.50" y1="324.30" x2="520.00" y2="324.30" stroke="#231f20" stroke-width="1.20" />
<text x="399.50" y="337.60" font-size="6.78" text-anchor="middle">KMT9α / KMT9β / H4K12me1</text>
<text x="399.50" y="345.90" font-size="6.78" text-anchor="middle">promoter co-locations,</text>
<text x="399.50" y="353.80" font-size="6.78" text-anchor="middle">(3,239 genes)</text>
<text x="484.50" y="337.60" font-size="6.78" text-anchor="middle">Differentially expressed</text>
<text x="484.50" y="345.90" font-size="6.78" text-anchor="middle">genes</text>
<text x="484.50" y="353.80" font-size="6.78" text-anchor="middle">(–/+ Tam)</text>
<text x="484.50" y="361.80" font-size="6.78" text-anchor="middle">(5,882 genes, <tspan font-style="italic">P</tspan> &lt; 1e-6)</text>
<circle cx="458.7" cy="398.4" r="28.9" fill="#ef6c5c"/>
<circle cx="426.7" cy="397.9" r="27.5" fill="#6690d4"/>
<clipPath id="cg"><circle cx="458.7" cy="398.4" r="28.9"/></clipPath>
<circle cx="426.7" cy="397.9" r="27.5" fill="#74689f" clip-path="url(#cg)"/>
<text x="415.80" y="400.40" font-size="6.78" text-anchor="middle">1,820</text>
<text x="440.80" y="400.40" font-size="6.78" text-anchor="middle">1,168</text>
<text x="470.00" y="400.40" font-size="6.78" text-anchor="middle">4,714</text>
<text x="146.60" y="494.80" font-size="6.78" text-anchor="middle">Kmt9α<tspan font-size="3.6" dy="-2.4">ind-fl/fl</tspan><tspan dy="2.4"> AOM/DSS tumor organoids #3</tspan></text>
<text x="146.00" y="503.40" font-size="6.78" text-anchor="middle">Directly regulated genes (1,168 genes)</text>
<text x="146.40" y="511.80" font-size="6.78" text-anchor="middle">Biological processes</text>
<rect x="104.25" y="522.00" width="65.06" height="9.25" fill="#f29a98" stroke="#1a1718" stroke-width="1.00" />
<line x1="100.25" y1="526.62" x2="104.25" y2="526.62" stroke="#231f20" stroke-width="1.00" />
<text x="99.20" y="528.42" font-size="6.78" text-anchor="end">Mitotic cell cycle</text>
<rect x="104.25" y="535.00" width="65.06" height="9.25" fill="#f29a98" stroke="#1a1718" stroke-width="1.00" />
<line x1="100.25" y1="539.62" x2="104.25" y2="539.62" stroke="#231f20" stroke-width="1.00" />
<text x="99.20" y="541.42" font-size="6.78" text-anchor="end">Cell cycle</text>
<rect x="104.25" y="548.00" width="59.99" height="9.50" fill="#f29a98" stroke="#1a1718" stroke-width="1.00" />
<line x1="100.25" y1="552.75" x2="104.25" y2="552.75" stroke="#231f20" stroke-width="1.00" />
<text x="99.20" y="554.55" font-size="6.78" text-anchor="end">Regulation of cell cycle</text>
<rect x="104.25" y="561.00" width="54.08" height="9.75" fill="#f29a98" stroke="#1a1718" stroke-width="1.00" />
<line x1="100.25" y1="565.88" x2="104.25" y2="565.88" stroke="#231f20" stroke-width="1.00" />
<text x="99.20" y="567.67" font-size="6.78" text-anchor="end">Negative regulation of cell cycle</text>
<rect x="104.25" y="574.50" width="48.16" height="9.25" fill="#f29a98" stroke="#1a1718" stroke-width="1.00" />
<line x1="100.25" y1="579.12" x2="104.25" y2="579.12" stroke="#231f20" stroke-width="1.00" />
<text x="99.20" y="580.92" font-size="6.78" text-anchor="end">Mitotic cell-cycle process</text>
<line x1="104.25" y1="520.00" x2="104.25" y2="586.50" stroke="#231f20" stroke-width="1.10" />
<line x1="103.70" y1="586.00" x2="189.25" y2="586.00" stroke="#231f20" stroke-width="1.10" />
<line x1="104.25" y1="586.00" x2="104.25" y2="589.00" stroke="#231f20" stroke-width="1.00" />
<text x="104.25" y="596.50" font-size="6.78" text-anchor="middle">0</text>
<line x1="125.38" y1="586.00" x2="125.38" y2="589.00" stroke="#231f20" stroke-width="1.00" />
<text x="125.38" y="596.50" font-size="6.78" text-anchor="middle">–5</text>
<line x1="146.50" y1="586.00" x2="146.50" y2="589.00" stroke="#231f20" stroke-width="1.00" />
<text x="146.50" y="596.50" font-size="6.78" text-anchor="middle">–10</text>
<line x1="167.62" y1="586.00" x2="167.62" y2="589.00" stroke="#231f20" stroke-width="1.00" />
<text x="167.62" y="596.50" font-size="6.78" text-anchor="middle">–15</text>
<line x1="188.75" y1="586.00" x2="188.75" y2="589.00" stroke="#231f20" stroke-width="1.00" />
<text x="188.75" y="596.50" font-size="6.78" text-anchor="middle">–20</text>
<text x="147.50" y="606.20" font-size="6.78" text-anchor="middle">Log<tspan font-style="italic">P</tspan></text>
<text x="385.00" y="492.70" font-size="6.78" text-anchor="middle">Kmt9α<tspan font-size="3.6" dy="-2.4">ind-fl/fl</tspan><tspan dy="2.4"> AOM/DSS tumor organoids #3</tspan></text>
<text x="384.50" y="501.00" font-size="6.78" text-anchor="middle" textLength="153.5" lengthAdjust="spacingAndGlyphs">ChIP-Seq tracks for KMT9α, KMT9β, and H4K12me1</text>
<line x1="260.70" y1="509.90" x2="260.70" y2="597.20" stroke="#231f20" stroke-width="1.00" />
<line x1="310.50" y1="509.90" x2="310.50" y2="597.20" stroke="#231f20" stroke-width="1.00" />
<line x1="360.20" y1="509.90" x2="360.20" y2="597.20" stroke="#231f20" stroke-width="1.00" />
<line x1="409.80" y1="509.90" x2="409.80" y2="597.20" stroke="#231f20" stroke-width="1.00" />
<line x1="459.50" y1="509.90" x2="459.50" y2="597.20" stroke="#231f20" stroke-width="1.00" />
<line x1="508.90" y1="509.90" x2="508.90" y2="597.20" stroke="#231f20" stroke-width="1.00" />
<line x1="229.60" y1="523.80" x2="229.60" y2="583.80" stroke="#231f20" stroke-width="1.00" />
<line x1="260.70" y1="509.90" x2="508.90" y2="509.90" stroke="#231f20" stroke-width="1.00" />
<line x1="260.70" y1="597.20" x2="508.90" y2="597.20" stroke="#231f20" stroke-width="1.00" />
<line x1="229.60" y1="523.80" x2="508.90" y2="523.80" stroke="#231f20" stroke-width="1.00" />
<line x1="229.60" y1="543.60" x2="508.90" y2="543.60" stroke="#231f20" stroke-width="1.00" />
<line x1="229.60" y1="563.60" x2="508.90" y2="563.60" stroke="#231f20" stroke-width="1.00" />
<line x1="229.60" y1="583.80" x2="508.90" y2="583.80" stroke="#231f20" stroke-width="1.00" />
<text x="286.80" y="518.90" font-size="6.78" text-anchor="middle" font-style="italic">Aurkb</text>
<text x="336.55" y="518.90" font-size="6.78" text-anchor="middle" font-style="italic">Mcm6</text>
<text x="386.20" y="518.90" font-size="6.78" text-anchor="middle" font-style="italic">Prr11</text>
<text x="435.85" y="518.90" font-size="6.78" text-anchor="middle" font-style="italic">Rad51c</text>
<text x="485.40" y="518.90" font-size="6.78" text-anchor="middle" font-style="italic">Rpa2</text>
<text x="245.00" y="537.10" font-size="6.78" text-anchor="middle">KMT9α</text>
<text x="245.00" y="556.90" font-size="6.78" text-anchor="middle">KMT9β</text>
<text x="245.00" y="573.10" font-size="6.78" text-anchor="middle">H4K12</text>
<text x="245.00" y="581.20" font-size="6.78" text-anchor="middle">me1</text>
<line x1="261.10" y1="536.80" x2="508.50" y2="536.80" stroke="#2a3a98" stroke-width="0.50" />
<text x="262.90" y="531.20" font-size="5.90">[0 – 43]</text>
<text x="312.70" y="531.20" font-size="5.90">[0 – 43]</text>
<text x="362.40" y="531.20" font-size="5.90">[0 – 43]</text>
<text x="412.00" y="531.20" font-size="5.90">[0 – 34]</text>
<text x="461.70" y="531.20" font-size="5.90">[0 – 34]</text>
<line x1="261.10" y1="556.80" x2="508.50" y2="556.80" stroke="#e23a34" stroke-width="0.50" />
<text x="262.90" y="551.20" font-size="5.90">[0 – 43]</text>
<text x="312.70" y="551.20" font-size="5.90">[0 – 43]</text>
<text x="362.40" y="551.20" font-size="5.90">[0 – 43]</text>
<text x="412.00" y="551.20" font-size="5.90">[0 – 43]</text>
<text x="461.70" y="551.20" font-size="5.90">[0 – 43]</text>
<line x1="261.10" y1="577.70" x2="508.50" y2="577.70" stroke="#1f7a3a" stroke-width="0.50" />
<text x="262.90" y="572.10" font-size="5.90">[0 – 21]</text>
<text x="312.70" y="572.10" font-size="5.90">[0 – 21]</text>
<text x="362.40" y="572.10" font-size="5.90">[0 – 21]</text>
<text x="412.00" y="572.10" font-size="5.90">[0 – 21]</text>
<text x="461.70" y="572.10" font-size="5.90">[0 – 21]</text>
<path d="M 280.2 536.80 L 280.2 536.50 L 283.0 535.80 L 285.0 534.20 L 287.0 532.00 L 288.5 533.40 L 290.0 534.80 L 293.0 535.40 L 295.5 535.90 L 297.0 536.60 L 297.0 536.80 Z" fill="#2a3a98"/>
<path d="M 303.5 536.80 L 303.5 536.80 L 304.5 536.10 L 306.0 536.20 L 307.0 536.80 L 307.0 536.80 Z" fill="#2a3a98"/>
<rect x="280.00" y="538.80" width="17.70" height="2.80" fill="#2a3a98" />
<path d="M 280.0 556.80 L 280.0 556.50 L 281.0 554.80 L 283.0 554.00 L 285.0 554.80 L 286.5 553.60 L 288.5 554.40 L 290.0 553.80 L 292.0 555.20 L 294.0 554.40 L 296.0 555.40 L 298.0 555.00 L 300.0 554.20 L 302.0 554.80 L 304.0 554.20 L 306.0 555.20 L 307.0 556.60 L 307.0 556.80 Z" fill="#e23a34"/>
<rect x="279.70" y="559.40" width="14.00" height="2.80" fill="#e23a34" />
<path d="M 280.0 577.70 L 280.0 577.50 L 282.0 576.30 L 284.0 575.10 L 286.4 573.50 L 288.0 575.10 L 290.0 575.70 L 292.0 576.70 L 294.0 576.10 L 295.5 575.50 L 297.0 576.70 L 299.0 577.10 L 301.0 576.50 L 303.0 576.70 L 305.8 577.50 L 305.8 577.70 Z" fill="#1f7a3a"/>
<rect x="282.40" y="580.40" width="7.20" height="2.80" fill="#1f7a3a" />
<path d="M 328.7 536.80 L 328.7 536.60 L 330.5 535.20 L 332.0 532.40 L 333.2 529.80 L 334.5 531.20 L 336.0 533.80 L 338.0 535.00 L 340.0 535.80 L 342.0 536.60 L 342.0 536.80 Z" fill="#2a3a98"/>
<path d="M 345.5 536.80 L 345.5 536.80 L 346.5 536.20 L 348.0 536.30 L 349.0 536.80 L 349.0 536.80 Z" fill="#2a3a98"/>
<rect x="326.80" y="538.80" width="14.50" height="2.80" fill="#2a3a98" />
<path d="M 327.3 556.80 L 327.3 556.60 L 329.0 554.80 L 331.0 553.40 L 333.0 552.00 L 334.5 552.80 L 336.0 552.20 L 338.0 553.80 L 340.0 554.40 L 342.0 555.60 L 343.5 556.60 L 343.5 556.80 Z" fill="#e23a34"/>
<path d="M 346.0 556.80 L 346.0 556.80 L 347.0 556.00 L 349.0 556.20 L 350.0 556.80 L 350.0 556.80 Z" fill="#e23a34"/>
<rect x="326.80" y="559.40" width="14.00" height="2.80" fill="#e23a34" />
<path d="M 328.7 577.70 L 328.7 577.50 L 330.5 576.30 L 332.5 575.30 L 334.9 573.50 L 336.5 574.90 L 338.0 575.70 L 340.0 576.10 L 342.0 576.50 L 343.5 577.50 L 343.5 577.70 Z" fill="#1f7a3a"/>
<path d="M 346.0 577.70 L 346.0 577.70 L 347.0 576.80 L 348.5 577.00 L 349.5 577.70 L 349.5 577.70 Z" fill="#1f7a3a"/>
<rect x="330.80" y="580.40" width="10.50" height="2.80" fill="#1f7a3a" />
<path d="M 378.7 536.80 L 378.7 536.60 L 380.5 535.40 L 383.0 534.40 L 385.0 535.20 L 387.3 536.50 L 388.7 536.50 L 390.5 535.20 L 393.0 534.20 L 395.0 533.60 L 396.0 535.60 L 397.4 536.60 L 397.4 536.80 Z" fill="#2a3a98"/>
<rect x="378.70" y="538.80" width="8.00" height="2.80" fill="#2a3a98" />
<rect x="389.60" y="538.80" width="13.60" height="2.80" fill="#2a3a98" />
<path d="M 381.5 556.80 L 381.5 556.60 L 383.0 554.80 L 385.0 553.80 L 386.5 551.60 L 388.0 553.60 L 389.5 551.20 L 391.5 551.00 L 393.0 553.80 L 395.0 554.20 L 397.0 554.80 L 399.0 555.20 L 401.7 556.60 L 401.7 556.80 Z" fill="#e23a34"/>
<rect x="381.00" y="559.40" width="22.20" height="2.80" fill="#e23a34" />
<path d="M 380.0 577.70 L 380.0 577.50 L 381.5 575.50 L 383.0 576.50 L 385.0 576.10 L 387.0 576.50 L 389.0 575.90 L 391.0 576.30 L 393.0 575.70 L 395.0 575.30 L 396.5 576.30 L 397.4 577.50 L 397.4 577.70 Z" fill="#1f7a3a"/>
<rect x="392.50" y="580.40" width="6.30" height="2.80" fill="#1f7a3a" />
<path d="M 426.2 536.80 L 426.2 536.60 L 428.0 535.20 L 430.0 534.20 L 432.0 534.80 L 434.0 534.40 L 436.9 533.40 L 439.0 534.80 L 441.0 535.40 L 443.0 535.80 L 445.0 536.60 L 445.0 536.80 Z" fill="#2a3a98"/>
<path d="M 450.0 536.80 L 450.0 536.80 L 451.0 536.20 L 453.0 536.30 L 454.0 536.80 L 454.0 536.80 Z" fill="#2a3a98"/>
<rect x="427.10" y="538.80" width="18.50" height="2.80" fill="#2a3a98" />
<path d="M 421.9 556.80 L 421.9 556.60 L 424.0 555.60 L 426.0 555.00 L 428.0 553.80 L 430.0 553.40 L 432.0 554.40 L 434.0 554.60 L 436.0 553.60 L 438.0 553.80 L 440.0 554.60 L 442.0 554.80 L 444.0 555.20 L 446.0 555.60 L 449.3 556.60 L 449.3 556.80 Z" fill="#e23a34"/>
<rect x="427.10" y="559.40" width="18.50" height="2.80" fill="#e23a34" />
<path d="M 421.9 577.70 L 421.9 577.50 L 424.0 576.70 L 426.0 576.90 L 428.0 576.50 L 430.0 576.70 L 432.0 576.30 L 434.0 575.50 L 436.9 573.30 L 438.5 574.70 L 440.0 575.50 L 442.0 575.10 L 444.0 575.90 L 446.0 576.70 L 447.9 577.50 L 447.9 577.70 Z" fill="#1f7a3a"/>
<rect x="434.00" y="580.40" width="9.50" height="2.80" fill="#1f7a3a" />
<path d="M 484.0 536.80 L 484.0 536.60 L 485.0 535.60 L 486.0 532.80 L 487.4 527.60 L 488.6 530.40 L 490.0 534.20 L 491.5 535.60 L 492.6 536.60 L 492.6 536.80 Z" fill="#2a3a98"/>
<path d="M 466.0 536.80 L 466.0 536.80 L 467.0 536.20 L 469.0 536.30 L 470.0 536.80 L 470.0 536.80 Z" fill="#2a3a98"/>
<path d="M 474.0 536.80 L 474.0 536.80 L 475.0 536.10 L 478.0 536.20 L 479.0 536.80 L 479.0 536.80 Z" fill="#2a3a98"/>
<rect x="481.00" y="538.80" width="14.50" height="2.80" fill="#2a3a98" />
<path d="M 463.7 556.80 L 463.7 556.60 L 465.0 555.60 L 467.0 555.40 L 469.0 556.00 L 471.0 555.40 L 473.0 555.60 L 475.0 556.00 L 477.0 555.80 L 479.0 555.40 L 481.0 554.60 L 483.0 553.60 L 485.0 552.40 L 486.8 551.40 L 488.5 552.40 L 490.0 553.20 L 492.0 554.00 L 494.0 555.20 L 497.0 556.60 L 497.0 556.80 Z" fill="#e23a34"/>
<rect x="480.20" y="559.40" width="14.40" height="2.80" fill="#e23a34" />
<path d="M 463.7 577.70 L 463.7 577.50 L 465.0 576.10 L 467.0 576.70 L 469.0 577.10 L 471.0 576.30 L 473.0 576.50 L 475.0 576.90 L 477.0 576.50 L 479.0 576.70 L 481.0 576.30 L 483.0 575.90 L 485.0 575.30 L 487.0 574.90 L 489.0 574.50 L 490.5 573.90 L 492.0 575.30 L 494.0 577.50 L 494.0 577.70 Z" fill="#1f7a3a"/>
<rect x="486.80" y="580.40" width="7.20" height="2.80" fill="#1f7a3a" />
<line x1="284.20" y1="591.10" x2="336.20" y2="591.10" stroke="#2a3a98" stroke-width="1.10" />
<rect x="284.20" y="589.40" width="2.20" height="3.40" fill="#2a3a98" />
<rect x="288.00" y="589.40" width="1.40" height="3.40" fill="#2a3a98" />
<rect x="291.00" y="589.40" width="1.20" height="3.40" fill="#2a3a98" />
<rect x="294.50" y="589.40" width="1.50" height="3.40" fill="#2a3a98" />
<path d="M 287.2 589.9 l 1.3 1.2 l -1.3 1.2" fill="none" stroke="#2a3a98" stroke-width="0.45"/>
<path d="M 291.4 589.9 l 1.3 1.2 l -1.3 1.2" fill="none" stroke="#2a3a98" stroke-width="0.45"/>
<path d="M 295.6 589.9 l 1.3 1.2 l -1.3 1.2" fill="none" stroke="#2a3a98" stroke-width="0.45"/>
<path d="M 299.8 589.9 l 1.3 1.2 l -1.3 1.2" fill="none" stroke="#2a3a98" stroke-width="0.45"/>
<path d="M 304.0 589.9 l 1.3 1.2 l -1.3 1.2" fill="none" stroke="#2a3a98" stroke-width="0.45"/>
<path d="M 308.2 589.9 l 1.3 1.2 l -1.3 1.2" fill="none" stroke="#2a3a98" stroke-width="0.45"/>
<path d="M 312.4 589.9 l 1.3 1.2 l -1.3 1.2" fill="none" stroke="#2a3a98" stroke-width="0.45"/>
<path d="M 316.6 589.9 l 1.3 1.2 l -1.3 1.2" fill="none" stroke="#2a3a98" stroke-width="0.45"/>
<path d="M 320.8 589.9 l 1.3 1.2 l -1.3 1.2" fill="none" stroke="#2a3a98" stroke-width="0.45"/>
<path d="M 325.0 589.9 l 1.3 1.2 l -1.3 1.2" fill="none" stroke="#2a3a98" stroke-width="0.45"/>
<path d="M 329.2 589.9 l 1.3 1.2 l -1.3 1.2" fill="none" stroke="#2a3a98" stroke-width="0.45"/>
<polygon points="333.6,589.1 336.8,591.1 333.6,593.1" fill="#2a3a98"/>
<line x1="360.60" y1="591.10" x2="437.40" y2="591.10" stroke="#2a3a98" stroke-width="1.10" />
<rect x="366.00" y="589.40" width="1.00" height="3.40" fill="#2a3a98" />
<rect x="375.50" y="589.40" width="1.50" height="3.40" fill="#2a3a98" />
<rect x="389.00" y="589.40" width="1.00" height="3.40" fill="#2a3a98" />
<rect x="396.00" y="589.40" width="1.00" height="3.40" fill="#2a3a98" />
<rect x="423.00" y="589.40" width="1.60" height="3.40" fill="#2a3a98" />
<rect x="428.50" y="589.40" width="1.50" height="3.40" fill="#2a3a98" />
<rect x="431.50" y="589.40" width="2.00" height="3.40" fill="#2a3a98" />
<path d="M 363.6 589.9 l 1.3 1.2 l -1.3 1.2" fill="none" stroke="#2a3a98" stroke-width="0.45"/>
<path d="M 367.8 589.9 l 1.3 1.2 l -1.3 1.2" fill="none" stroke="#2a3a98" stroke-width="0.45"/>
<path d="M 372.0 589.9 l 1.3 1.2 l -1.3 1.2" fill="none" stroke="#2a3a98" stroke-width="0.45"/>
<path d="M 376.2 589.9 l 1.3 1.2 l -1.3 1.2" fill="none" stroke="#2a3a98" stroke-width="0.45"/>
<path d="M 380.4 589.9 l 1.3 1.2 l -1.3 1.2" fill="none" stroke="#2a3a98" stroke-width="0.45"/>
<path d="M 384.6 589.9 l 1.3 1.2 l -1.3 1.2" fill="none" stroke="#2a3a98" stroke-width="0.45"/>
<path d="M 388.8 589.9 l 1.3 1.2 l -1.3 1.2" fill="none" stroke="#2a3a98" stroke-width="0.45"/>
<path d="M 393.0 589.9 l 1.3 1.2 l -1.3 1.2" fill="none" stroke="#2a3a98" stroke-width="0.45"/>
<path d="M 397.2 589.9 l 1.3 1.2 l -1.3 1.2" fill="none" stroke="#2a3a98" stroke-width="0.45"/>
<path d="M 401.4 589.9 l 1.3 1.2 l -1.3 1.2" fill="none" stroke="#2a3a98" stroke-width="0.45"/>
<path d="M 405.6 589.9 l 1.3 1.2 l -1.3 1.2" fill="none" stroke="#2a3a98" stroke-width="0.45"/>
<path d="M 409.8 589.9 l 1.3 1.2 l -1.3 1.2" fill="none" stroke="#2a3a98" stroke-width="0.45"/>
<path d="M 414.0 589.9 l 1.3 1.2 l -1.3 1.2" fill="none" stroke="#2a3a98" stroke-width="0.45"/>
<path d="M 418.2 589.9 l 1.3 1.2 l -1.3 1.2" fill="none" stroke="#2a3a98" stroke-width="0.45"/>
<path d="M 422.4 589.9 l 1.3 1.2 l -1.3 1.2" fill="none" stroke="#2a3a98" stroke-width="0.45"/>
<path d="M 426.6 589.9 l 1.3 1.2 l -1.3 1.2" fill="none" stroke="#2a3a98" stroke-width="0.45"/>
<path d="M 430.8 589.9 l 1.3 1.2 l -1.3 1.2" fill="none" stroke="#2a3a98" stroke-width="0.45"/>
<polygon points="434.8,589.1 438.0,591.1 434.8,593.1" fill="#2a3a98"/>
<line x1="485.40" y1="591.10" x2="508.20" y2="591.10" stroke="#2a3a98" stroke-width="1.10" />
<rect x="485.40" y="589.40" width="1.80" height="3.40" fill="#2a3a98" />
<rect x="488.40" y="589.40" width="1.80" height="3.40" fill="#2a3a98" />
<path d="M 488.4 589.9 l 1.3 1.2 l -1.3 1.2" fill="none" stroke="#2a3a98" stroke-width="0.45"/>
<path d="M 492.6 589.9 l 1.3 1.2 l -1.3 1.2" fill="none" stroke="#2a3a98" stroke-width="0.45"/>
<path d="M 496.8 589.9 l 1.3 1.2 l -1.3 1.2" fill="none" stroke="#2a3a98" stroke-width="0.45"/>
<path d="M 501.0 589.9 l 1.3 1.2 l -1.3 1.2" fill="none" stroke="#2a3a98" stroke-width="0.45"/>
<path d="M 505.2 589.9 l 1.3 1.2 l -1.3 1.2" fill="none" stroke="#2a3a98" stroke-width="0.45"/>
</svg></body></html>
